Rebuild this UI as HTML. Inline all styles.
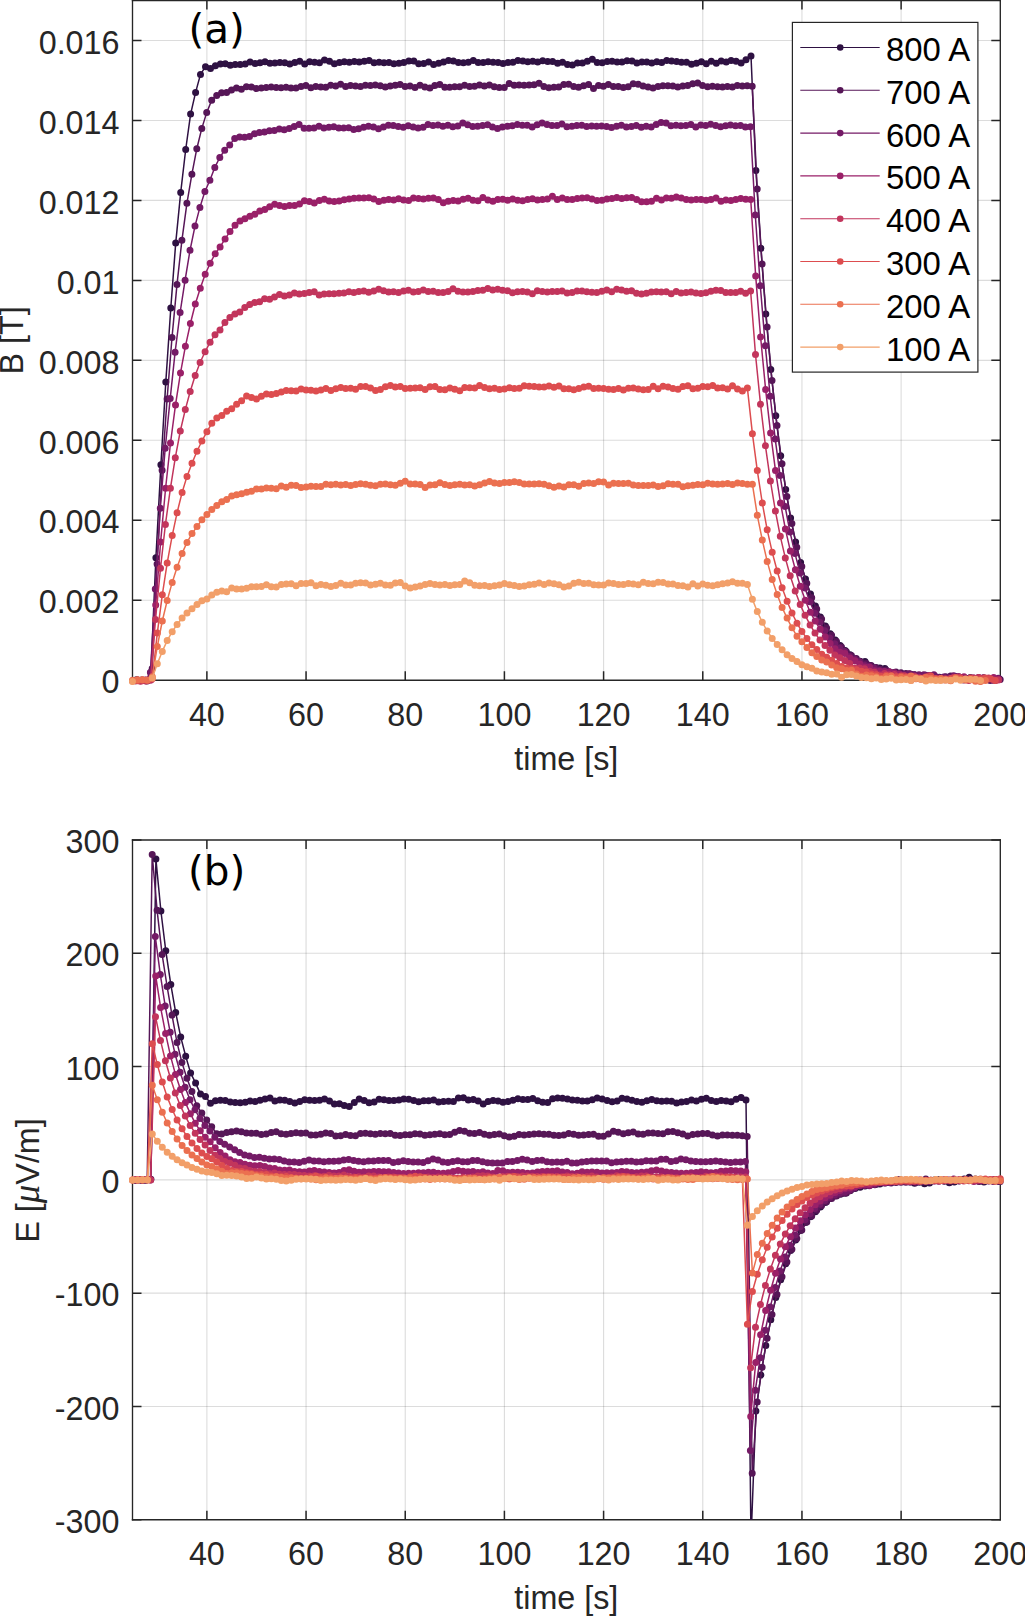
<!DOCTYPE html>
<html><head><meta charset="utf-8"><title>B and E vs time</title>
<style>
html,body{margin:0;padding:0;background:#fff;width:1025px;height:1616px;overflow:hidden}
svg{display:block}
.tk text{font-family:"Liberation Sans",Arial,Helvetica,sans-serif;font-size:32.3px;fill:#262626}
.lg text{font-family:"Liberation Sans",Arial,Helvetica,sans-serif;font-size:32.9px;fill:#000}
.pl{font-family:"DejaVu Sans",Verdana,sans-serif;font-size:40.5px;fill:#000}
.al{font-family:"Liberation Sans",Arial,Helvetica,sans-serif;font-size:32.3px;fill:#262626}
</style></head><body>
<svg width="1025" height="1616" viewBox="0 0 1025 1616">
<rect width="1025" height="1616" fill="#fff"/>
<defs>


</defs>
<clipPath id="ca"><rect x="132.50" y="0.50" width="867.80" height="679.70"/></clipPath>
<path d="M206.88 0.50V680.20M306.06 0.50V680.20M405.24 0.50V680.20M504.41 0.50V680.20M603.59 0.50V680.20M702.77 0.50V680.20M801.95 0.50V680.20M901.12 0.50V680.20" stroke="#262626" stroke-opacity="0.16" stroke-width="1.1" fill="none"/>
<path d="M132.50 600.24H1000.30M132.50 520.27H1000.30M132.50 440.31H1000.30M132.50 360.34H1000.30M132.50 280.38H1000.30M132.50 200.41H1000.30M132.50 120.45H1000.30M132.50 40.48H1000.30" stroke="#262626" stroke-opacity="0.16" stroke-width="1.1" fill="none"/>
<clipPath id="cb"><rect x="132.50" y="839.95" width="867.80" height="679.80"/></clipPath>
<path d="M206.88 839.95V1519.75M306.06 839.95V1519.75M405.24 839.95V1519.75M504.41 839.95V1519.75M603.59 839.95V1519.75M702.77 839.95V1519.75M801.95 839.95V1519.75M901.12 839.95V1519.75" stroke="#262626" stroke-opacity="0.16" stroke-width="1.1" fill="none"/>
<path d="M132.50 1406.45H1000.30M132.50 1293.15H1000.30M132.50 1179.85H1000.30M132.50 1066.55H1000.30M132.50 953.25H1000.30" stroke="#262626" stroke-opacity="0.16" stroke-width="1.1" fill="none"/>
<path d="M206.88 680.20v-9.00M206.88 0.50v9.00M306.06 680.20v-9.00M306.06 0.50v9.00M405.24 680.20v-9.00M405.24 0.50v9.00M504.41 680.20v-9.00M504.41 0.50v9.00M603.59 680.20v-9.00M603.59 0.50v9.00M702.77 680.20v-9.00M702.77 0.50v9.00M801.95 680.20v-9.00M801.95 0.50v9.00M901.12 680.20v-9.00M901.12 0.50v9.00" stroke="#262626" stroke-width="1.5" fill="none"/>
<path d="M132.50 680.20h9.00M1000.30 680.20h-9.00M132.50 600.24h9.00M1000.30 600.24h-9.00M132.50 520.27h9.00M1000.30 520.27h-9.00M132.50 440.31h9.00M1000.30 440.31h-9.00M132.50 360.34h9.00M1000.30 360.34h-9.00M132.50 280.38h9.00M1000.30 280.38h-9.00M132.50 200.41h9.00M1000.30 200.41h-9.00M132.50 120.45h9.00M1000.30 120.45h-9.00M132.50 40.48h9.00M1000.30 40.48h-9.00" stroke="#262626" stroke-width="1.5" fill="none"/>
<path d="M132.50 -0.30V681.00M1000.30 -0.30V681.00" stroke="#262626" stroke-width="1.35" fill="none"/>
<path d="M131.80 0.50H1001.00M131.80 680.20H1001.00" stroke="#262626" stroke-width="1.5" fill="none"/>
<path d="M206.88 1519.75v-9.00M206.88 839.95v9.00M306.06 1519.75v-9.00M306.06 839.95v9.00M405.24 1519.75v-9.00M405.24 839.95v9.00M504.41 1519.75v-9.00M504.41 839.95v9.00M603.59 1519.75v-9.00M603.59 839.95v9.00M702.77 1519.75v-9.00M702.77 839.95v9.00M801.95 1519.75v-9.00M801.95 839.95v9.00M901.12 1519.75v-9.00M901.12 839.95v9.00" stroke="#262626" stroke-width="1.5" fill="none"/>
<path d="M132.50 1519.75h9.00M1000.30 1519.75h-9.00M132.50 1406.45h9.00M1000.30 1406.45h-9.00M132.50 1293.15h9.00M1000.30 1293.15h-9.00M132.50 1179.85h9.00M1000.30 1179.85h-9.00M132.50 1066.55h9.00M1000.30 1066.55h-9.00M132.50 953.25h9.00M1000.30 953.25h-9.00M132.50 839.95h9.00M1000.30 839.95h-9.00" stroke="#262626" stroke-width="1.5" fill="none"/>
<path d="M132.50 839.15V1520.55M1000.30 839.15V1520.55" stroke="#262626" stroke-width="1.35" fill="none"/>
<path d="M131.80 839.95H1001.00M131.80 1519.75H1001.00" stroke="#262626" stroke-width="1.5" fill="none"/>
<g>
<path clip-path="url(#ca)" d="M131.1 680L136.1 680L141 680.2L146 680.7L150.9 672.2L155.9 557.7L160.9 464.8L165.8 381.9L170.8 308L175.7 243.1L180.7 192.4L185.7 149.5L190.6 114.1L195.6 92.4L200.5 74.4L205.5 66.7L210.5 68.4L215.4 65.7L220.4 64.1L225.3 63.8L230.3 65.3L235.2 64.4L240.2 64.6L245.2 64L250.1 62L255.1 63.6L260 62.8L265 61.8L270 63.2L274.9 62.9L279.9 62.5L284.8 62.8L289.8 64L294.8 62.4L299.7 61.2L304.7 63.9L309.6 61.7L314.6 62.2L319.5 62.7L324.5 59.9L329.5 61.3L334.4 63.7L339.4 62.4L344.3 61.7L349.3 62.3L354.3 61.5L359.2 62.1L364.2 61.2L369.1 60.5L374.1 62.7L379.1 62.3L384 62.8L389 62.5L393.9 63.8L398.9 63.3L403.8 62.4L408.8 60.9L413.8 60.9L418.7 63.8L423.7 63.4L428.6 62.1L433.6 64.6L438.6 63.3L443.5 62.1L448.5 60.5L453.4 61.1L458.4 62.5L463.4 62.7L468.3 62.2L473.3 60.4L478.2 62.4L483.2 62.5L488.1 61.8L493.1 62.2L498.1 62.6L503 63.5L508 62.4L512.9 62.3L517.9 60.5L522.9 60.9L527.8 61.7L532.8 61.3L537.7 62L542.7 60.8L547.7 61.6L552.6 61.5L557.6 63.3L562.5 62.2L567.5 64.4L572.4 64.9L577.4 62.9L582.4 63L587.3 61.3L592.3 59.2L597.2 62.5L602.2 62.7L607.2 61.6L612.1 61.2L617.1 61.9L622 61.9L627 60.8L632 61.1L636.9 62.9L641.9 62L646.8 61.9L651.8 62.9L656.8 61.8L661.7 62.4L666.7 60.5L671.6 61.1L676.6 61.5L681.5 62.3L686.5 62.3L691.5 64.3L696.4 63.3L701.4 61.8L706.3 63.8L711.3 61.3L716.3 63.2L721.2 61.1L726.2 62.1L731.1 60.6L736.1 61.3L741.1 62.9L746 59.8L751 55.9L755.9 170.5L760.9 248.3L765.8 313.9L770.8 369.4L775.8 415.7L780.7 455.8L785.7 489.4L790.6 518L795.6 542.1L800.6 562.5L805.5 579L810.5 593.9L815.4 606L820.4 616.9L825.4 626.1L830.3 633.7L835.3 640.1L840.2 645.5L845.2 650.5L850.1 654.7L855.1 659.1L860.1 661.2L865 661.5L870 665.6L874.9 668L879.9 668L884.9 668.6L889.8 672.2L894.8 672.6L899.7 673.9L904.7 675.4L909.7 673.9L914.6 674.7L919.6 675.5L924.5 676.5L929.5 676L934.4 677L939.4 677.3L944.4 678.5L949.3 678.6L954.3 676.6L959.2 678L964.2 677.8L969.2 678.2L974.1 678.8L979.1 678.9L984 678.1L989 678.9L994 679L998.9 678.6" fill="none" stroke="#2e1142" stroke-width="1.5" stroke-linejoin="round"/>
<path d="M136.1 680h0M141 680.2h0M146 680.7h0M150.9 672.2h0M155.9 557.7h0M160.9 464.8h0M165.8 381.9h0M170.8 308h0M175.7 243.1h0M180.7 192.4h0M185.7 149.5h0M190.6 114.1h0M195.6 92.4h0M200.5 74.4h0M205.5 66.7h0M210.5 68.4h0M215.4 65.7h0M220.4 64.1h0M225.3 63.8h0M230.3 65.3h0M235.2 64.4h0M240.2 64.6h0M245.2 64h0M250.1 62h0M255.1 63.6h0M260 62.8h0M265 61.8h0M270 63.2h0M274.9 62.9h0M279.9 62.5h0M284.8 62.8h0M289.8 64h0M294.8 62.4h0M299.7 61.2h0M304.7 63.9h0M309.6 61.7h0M314.6 62.2h0M319.5 62.7h0M324.5 59.9h0M329.5 61.3h0M334.4 63.7h0M339.4 62.4h0M344.3 61.7h0M349.3 62.3h0M354.3 61.5h0M359.2 62.1h0M364.2 61.2h0M369.1 60.5h0M374.1 62.7h0M379.1 62.3h0M384 62.8h0M389 62.5h0M393.9 63.8h0M398.9 63.3h0M403.8 62.4h0M408.8 60.9h0M413.8 60.9h0M418.7 63.8h0M423.7 63.4h0M428.6 62.1h0M433.6 64.6h0M438.6 63.3h0M443.5 62.1h0M448.5 60.5h0M453.4 61.1h0M458.4 62.5h0M463.4 62.7h0M468.3 62.2h0M473.3 60.4h0M478.2 62.4h0M483.2 62.5h0M488.1 61.8h0M493.1 62.2h0M498.1 62.6h0M503 63.5h0M508 62.4h0M512.9 62.3h0M517.9 60.5h0M522.9 60.9h0M527.8 61.7h0M532.8 61.3h0M537.7 62h0M542.7 60.8h0M547.7 61.6h0M552.6 61.5h0M557.6 63.3h0M562.5 62.2h0M567.5 64.4h0M572.4 64.9h0M577.4 62.9h0M582.4 63h0M587.3 61.3h0M592.3 59.2h0M597.2 62.5h0M602.2 62.7h0M607.2 61.6h0M612.1 61.2h0M617.1 61.9h0M622 61.9h0M627 60.8h0M632 61.1h0M636.9 62.9h0M641.9 62h0M646.8 61.9h0M651.8 62.9h0M656.8 61.8h0M661.7 62.4h0M666.7 60.5h0M671.6 61.1h0M676.6 61.5h0M681.5 62.3h0M686.5 62.3h0M691.5 64.3h0M696.4 63.3h0M701.4 61.8h0M706.3 63.8h0M711.3 61.3h0M716.3 63.2h0M721.2 61.1h0M726.2 62.1h0M731.1 60.6h0M736.1 61.3h0M741.1 62.9h0M746 59.8h0M751 55.9h0M755.9 170.5h0M760.9 248.3h0M765.8 313.9h0M770.8 369.4h0M775.8 415.7h0M780.7 455.8h0M785.7 489.4h0M790.6 518h0M795.6 542.1h0M800.6 562.5h0M805.5 579h0M810.5 593.9h0M815.4 606h0M820.4 616.9h0M825.4 626.1h0M830.3 633.7h0M835.3 640.1h0M840.2 645.5h0M845.2 650.5h0M850.1 654.7h0M855.1 659.1h0M860.1 661.2h0M865 661.5h0M870 665.6h0M874.9 668h0M879.9 668h0M884.9 668.6h0M889.8 672.2h0M894.8 672.6h0M899.7 673.9h0M904.7 675.4h0M909.7 673.9h0M914.6 674.7h0M919.6 675.5h0M924.5 676.5h0M929.5 676h0M934.4 677h0M939.4 677.3h0M944.4 678.5h0M949.3 678.6h0M954.3 676.6h0M959.2 678h0M964.2 677.8h0M969.2 678.2h0M974.1 678.8h0M979.1 678.9h0M984 678.1h0M989 678.9h0M994 679h0M998.9 678.6h0" stroke="#2e1142" stroke-width="7.0" stroke-linecap="round" fill="none"/>
<path clip-path="url(#ca)" d="M132.4 680.3L137.3 679.7L142.3 680.1L147.2 680.9L152.2 668.6L157.1 564L162.1 470.2L167.1 398.9L172 337.5L177 284.4L181.9 240.3L186.9 203.3L191.9 174.2L196.8 148.7L201.8 128.4L206.7 112.6L211.7 100.3L216.7 95.6L221.6 92.7L226.6 92.5L231.5 89.9L236.5 87.9L241.4 89.3L246.4 86.8L251.4 87.1L256.3 88.6L261.3 88L266.2 87.5L271.2 87L276.2 87.4L281.1 87.7L286.1 87.2L291 88L296 88.1L301 86.4L305.9 85.5L310.9 87.8L315.8 86.6L320.8 87.1L325.7 87.2L330.7 85.3L335.7 86L340.6 84.3L345.6 86.4L350.5 85.6L355.5 86.1L360.5 86.6L365.4 85.2L370.4 85.6L375.3 84.9L380.3 85.8L385.3 86.9L390.2 85.9L395.2 85.3L400.1 84.5L405.1 86.4L410 86.1L415 87.4L420 85.3L424.9 87L429.9 87.9L434.8 85.6L439.8 84.4L444.8 87.2L449.7 87.2L454.7 86.8L459.6 86.8L464.6 85.3L469.6 86.4L474.5 86.2L479.5 84.9L484.4 86L489.4 85.1L494.3 86.7L499.3 87.4L504.3 87.4L509.2 83.5L514.2 85.2L519.1 85L524.1 85.2L529.1 85.1L534 84.7L539 83.2L543.9 86.5L548.9 87.7L553.9 87.2L558.8 87L563.8 84.5L568.7 84.3L573.7 86.6L578.6 87.3L583.6 85.8L588.6 84.4L593.5 88.4L598.5 85.6L603.4 86.3L608.4 84.6L613.4 86.5L618.3 86.4L623.3 87.6L628.2 86.7L633.2 83.8L638.2 84.2L643.1 86L648.1 87.1L653 88.1L658 86.5L662.9 85.7L667.9 85.7L672.9 86L677.8 87L682.8 86L687.7 85.4L692.7 83.7L697.7 83.1L702.6 85.6L707.6 86.8L712.5 86.2L717.5 86.8L722.5 86.9L727.4 86.4L732.4 87.1L737.3 85.5L742.3 85.9L747.2 85.8L752.2 86.2L757.2 189.1L762.1 264L767.1 327L772 380.4L777 425.4L782 463.8L786.9 496.6L791.9 523.6L796.8 547.2L801.8 566.6L806.8 583.2L811.7 597.8L816.7 609.1L821.6 619.1L826.6 627.9L831.6 635.3L836.5 641.6L841.5 647.1L846.4 651.7L851.4 655.6L856.3 658.6L861.3 662.3L866.3 663.5L871.2 665.4L876.2 667.5L881.1 669.2L886.1 670L891.1 672.8L896 672.1L901 672.8L905.9 673.5L910.9 674.2L915.9 675.7L920.8 675.8L925.8 675.3L930.7 675.8L935.7 676.7L940.6 678.4L945.6 676.8L950.6 676.1L955.5 676.5L960.5 677.8L965.4 679.4L970.4 677.6L975.4 678.8L980.3 681L985.3 679L990.2 680.4L995.2 680.5L1000.2 679.5" fill="none" stroke="#561657" stroke-width="1.5" stroke-linejoin="round"/>
<path d="M137.3 679.7h0M142.3 680.1h0M147.2 680.9h0M152.2 668.6h0M157.1 564h0M162.1 470.2h0M167.1 398.9h0M172 337.5h0M177 284.4h0M181.9 240.3h0M186.9 203.3h0M191.9 174.2h0M196.8 148.7h0M201.8 128.4h0M206.7 112.6h0M211.7 100.3h0M216.7 95.6h0M221.6 92.7h0M226.6 92.5h0M231.5 89.9h0M236.5 87.9h0M241.4 89.3h0M246.4 86.8h0M251.4 87.1h0M256.3 88.6h0M261.3 88h0M266.2 87.5h0M271.2 87h0M276.2 87.4h0M281.1 87.7h0M286.1 87.2h0M291 88h0M296 88.1h0M301 86.4h0M305.9 85.5h0M310.9 87.8h0M315.8 86.6h0M320.8 87.1h0M325.7 87.2h0M330.7 85.3h0M335.7 86h0M340.6 84.3h0M345.6 86.4h0M350.5 85.6h0M355.5 86.1h0M360.5 86.6h0M365.4 85.2h0M370.4 85.6h0M375.3 84.9h0M380.3 85.8h0M385.3 86.9h0M390.2 85.9h0M395.2 85.3h0M400.1 84.5h0M405.1 86.4h0M410 86.1h0M415 87.4h0M420 85.3h0M424.9 87h0M429.9 87.9h0M434.8 85.6h0M439.8 84.4h0M444.8 87.2h0M449.7 87.2h0M454.7 86.8h0M459.6 86.8h0M464.6 85.3h0M469.6 86.4h0M474.5 86.2h0M479.5 84.9h0M484.4 86h0M489.4 85.1h0M494.3 86.7h0M499.3 87.4h0M504.3 87.4h0M509.2 83.5h0M514.2 85.2h0M519.1 85h0M524.1 85.2h0M529.1 85.1h0M534 84.7h0M539 83.2h0M543.9 86.5h0M548.9 87.7h0M553.9 87.2h0M558.8 87h0M563.8 84.5h0M568.7 84.3h0M573.7 86.6h0M578.6 87.3h0M583.6 85.8h0M588.6 84.4h0M593.5 88.4h0M598.5 85.6h0M603.4 86.3h0M608.4 84.6h0M613.4 86.5h0M618.3 86.4h0M623.3 87.6h0M628.2 86.7h0M633.2 83.8h0M638.2 84.2h0M643.1 86h0M648.1 87.1h0M653 88.1h0M658 86.5h0M662.9 85.7h0M667.9 85.7h0M672.9 86h0M677.8 87h0M682.8 86h0M687.7 85.4h0M692.7 83.7h0M697.7 83.1h0M702.6 85.6h0M707.6 86.8h0M712.5 86.2h0M717.5 86.8h0M722.5 86.9h0M727.4 86.4h0M732.4 87.1h0M737.3 85.5h0M742.3 85.9h0M747.2 85.8h0M752.2 86.2h0M757.2 189.1h0M762.1 264h0M767.1 327h0M772 380.4h0M777 425.4h0M782 463.8h0M786.9 496.6h0M791.9 523.6h0M796.8 547.2h0M801.8 566.6h0M806.8 583.2h0M811.7 597.8h0M816.7 609.1h0M821.6 619.1h0M826.6 627.9h0M831.6 635.3h0M836.5 641.6h0M841.5 647.1h0M846.4 651.7h0M851.4 655.6h0M856.3 658.6h0M861.3 662.3h0M866.3 663.5h0M871.2 665.4h0M876.2 667.5h0M881.1 669.2h0M886.1 670h0M891.1 672.8h0M896 672.1h0M901 672.8h0M905.9 673.5h0M910.9 674.2h0M915.9 675.7h0M920.8 675.8h0M925.8 675.3h0M930.7 675.8h0M935.7 676.7h0M940.6 678.4h0M945.6 676.8h0M950.6 676.1h0M955.5 676.5h0M960.5 677.8h0M965.4 679.4h0M970.4 677.6h0M975.4 678.8h0M980.3 681h0M985.3 679h0M990.2 680.4h0M995.2 680.5h0M1000.2 679.5h0" stroke="#561657" stroke-width="7.0" stroke-linecap="round" fill="none"/>
<path clip-path="url(#ca)" d="M130.5 680.8L135.5 680.8L140.4 680.8L145.4 680.2L150.4 672.6L155.3 589L160.3 508.2L165.2 448.3L170.2 398.6L175.1 352.2L180.1 312.5L185.1 280.2L190 250.3L195 226.1L199.9 207.4L204.9 191.5L209.9 180.2L214.8 167.4L219.8 157.5L224.7 150.2L229.7 144.9L234.7 138.4L239.6 137.1L244.6 137.3L249.5 136.6L254.5 133.8L259.4 132.4L264.4 132.1L269.4 130.7L274.3 130.6L279.3 129.1L284.2 129.8L289.2 128.6L294.2 126.4L299.1 124.6L304.1 128.2L309 128.2L314 127.9L319 126.2L323.9 127.9L328.9 127.3L333.8 126.8L338.8 127.9L343.7 127.9L348.7 127.7L353.7 129.4L358.6 128.8L363.6 127.2L368.5 126.3L373.5 127L378.5 128.7L383.4 127.1L388.4 125.3L393.3 125.5L398.3 126.5L403.3 127.3L408.2 125.8L413.2 127.1L418.1 128L423.1 127.2L428 124.6L433 125.4L438 124.9L442.9 126.3L447.9 125.3L452.8 126.8L457.8 125.9L462.8 123L467.7 124.8L472.7 126.6L477.6 126.3L482.6 125.5L487.6 124.7L492.5 126.9L497.5 128.5L502.4 126.9L507.4 126.2L512.3 125.7L517.3 124.4L522.3 125.2L527.2 125.3L532.2 127.1L537.1 124.8L542.1 123.1L547.1 124.6L552 125.6L557 125.4L561.9 124.1L566.9 126.8L571.9 126.3L576.8 125.4L581.8 125.2L586.7 126.4L591.7 125.9L596.6 126.3L601.6 126L606.6 126.5L611.5 127.5L616.5 126.2L621.4 125.2L626.4 127.1L631.4 126.4L636.3 125.6L641.3 127.2L646.2 126.3L651.2 127.1L656.2 124.4L661.1 122.5L666.1 123.1L671 125.7L676 125.2L680.9 125.7L685.9 125.5L690.9 124.4L695.8 127.1L700.8 125.1L705.7 125.5L710.7 124.3L715.7 125.6L720.6 126.8L725.6 125.7L730.5 125.1L735.5 125.7L740.5 125.6L745.4 127.1L750.4 126.8L755.3 215L760.3 285.7L765.3 345.7L770.2 396.3L775.2 438.9L780.1 475.6L785.1 506.4L790 532L795 553.6L800 572.9L804.9 588L809.9 601.8L814.8 613.3L819.8 622.2L824.8 630.7L829.7 638.1L834.7 643.7L839.6 648.1L844.6 651.5L849.6 656.6L854.5 659.1L859.5 661.5L864.4 664.9L869.4 666.2L874.3 668.2L879.3 670.2L884.3 671.3L889.2 671.8L894.2 672.8L899.1 674.2L904.1 674.6L909.1 673.8L914 674.8L919 674.7L923.9 674.8L928.9 675.4L933.9 674.7L938.8 677.4L943.8 676.9L948.7 677.5L953.7 675.8L958.6 676.4L963.6 680L968.6 679.5L973.5 677.9L978.5 677.6L983.4 677.8L988.4 678.6L993.4 678.3L998.3 678.3" fill="none" stroke="#741a66" stroke-width="1.5" stroke-linejoin="round"/>
<path d="M135.5 680.8h0M140.4 680.8h0M145.4 680.2h0M150.4 672.6h0M155.3 589h0M160.3 508.2h0M165.2 448.3h0M170.2 398.6h0M175.1 352.2h0M180.1 312.5h0M185.1 280.2h0M190 250.3h0M195 226.1h0M199.9 207.4h0M204.9 191.5h0M209.9 180.2h0M214.8 167.4h0M219.8 157.5h0M224.7 150.2h0M229.7 144.9h0M234.7 138.4h0M239.6 137.1h0M244.6 137.3h0M249.5 136.6h0M254.5 133.8h0M259.4 132.4h0M264.4 132.1h0M269.4 130.7h0M274.3 130.6h0M279.3 129.1h0M284.2 129.8h0M289.2 128.6h0M294.2 126.4h0M299.1 124.6h0M304.1 128.2h0M309 128.2h0M314 127.9h0M319 126.2h0M323.9 127.9h0M328.9 127.3h0M333.8 126.8h0M338.8 127.9h0M343.7 127.9h0M348.7 127.7h0M353.7 129.4h0M358.6 128.8h0M363.6 127.2h0M368.5 126.3h0M373.5 127h0M378.5 128.7h0M383.4 127.1h0M388.4 125.3h0M393.3 125.5h0M398.3 126.5h0M403.3 127.3h0M408.2 125.8h0M413.2 127.1h0M418.1 128h0M423.1 127.2h0M428 124.6h0M433 125.4h0M438 124.9h0M442.9 126.3h0M447.9 125.3h0M452.8 126.8h0M457.8 125.9h0M462.8 123h0M467.7 124.8h0M472.7 126.6h0M477.6 126.3h0M482.6 125.5h0M487.6 124.7h0M492.5 126.9h0M497.5 128.5h0M502.4 126.9h0M507.4 126.2h0M512.3 125.7h0M517.3 124.4h0M522.3 125.2h0M527.2 125.3h0M532.2 127.1h0M537.1 124.8h0M542.1 123.1h0M547.1 124.6h0M552 125.6h0M557 125.4h0M561.9 124.1h0M566.9 126.8h0M571.9 126.3h0M576.8 125.4h0M581.8 125.2h0M586.7 126.4h0M591.7 125.9h0M596.6 126.3h0M601.6 126h0M606.6 126.5h0M611.5 127.5h0M616.5 126.2h0M621.4 125.2h0M626.4 127.1h0M631.4 126.4h0M636.3 125.6h0M641.3 127.2h0M646.2 126.3h0M651.2 127.1h0M656.2 124.4h0M661.1 122.5h0M666.1 123.1h0M671 125.7h0M676 125.2h0M680.9 125.7h0M685.9 125.5h0M690.9 124.4h0M695.8 127.1h0M700.8 125.1h0M705.7 125.5h0M710.7 124.3h0M715.7 125.6h0M720.6 126.8h0M725.6 125.7h0M730.5 125.1h0M735.5 125.7h0M740.5 125.6h0M745.4 127.1h0M750.4 126.8h0M755.3 215h0M760.3 285.7h0M765.3 345.7h0M770.2 396.3h0M775.2 438.9h0M780.1 475.6h0M785.1 506.4h0M790 532h0M795 553.6h0M800 572.9h0M804.9 588h0M809.9 601.8h0M814.8 613.3h0M819.8 622.2h0M824.8 630.7h0M829.7 638.1h0M834.7 643.7h0M839.6 648.1h0M844.6 651.5h0M849.6 656.6h0M854.5 659.1h0M859.5 661.5h0M864.4 664.9h0M869.4 666.2h0M874.3 668.2h0M879.3 670.2h0M884.3 671.3h0M889.2 671.8h0M894.2 672.8h0M899.1 674.2h0M904.1 674.6h0M909.1 673.8h0M914 674.8h0M919 674.7h0M923.9 674.8h0M928.9 675.4h0M933.9 674.7h0M938.8 677.4h0M943.8 676.9h0M948.7 677.5h0M953.7 675.8h0M958.6 676.4h0M963.6 680h0M968.6 679.5h0M973.5 677.9h0M978.5 677.6h0M983.4 677.8h0M988.4 678.6h0M993.4 678.3h0M998.3 678.3h0" stroke="#741a66" stroke-width="7.0" stroke-linecap="round" fill="none"/>
<path clip-path="url(#ca)" d="M130.9 680.5L135.8 680.7L140.8 680.5L145.7 680.1L150.7 679.9L155.7 604.9L160.6 542.1L165.6 488.3L170.5 443L175.5 404.9L180.5 372.9L185.4 346.3L190.4 323.5L195.3 304L200.3 288.3L205.2 274.2L210.2 263.2L215.2 253.7L220.1 246.9L225.1 238.9L230 231.6L235 225.2L240 220.9L244.9 218.7L249.9 216.3L254.8 214.3L259.8 210.9L264.8 209.4L269.7 206.7L274.7 204.3L279.6 205.5L284.6 206.6L289.5 205.6L294.5 205.4L299.5 204.1L304.4 200.7L309.4 201.5L314.3 203.1L319.3 200.4L324.3 199.3L329.2 201L334.2 201.5L339.1 200.9L344.1 199.8L349.1 199L354 198.2L359 197.9L363.9 197.9L368.9 197.8L373.8 199.1L378.8 201.6L383.8 200.2L388.7 199.5L393.7 199.9L398.6 198.8L403.6 200.1L408.6 200.6L413.5 198L418.5 198.4L423.4 199L428.4 198.2L433.4 198L438.3 199.5L443.3 202.7L448.2 201.2L453.2 200.6L458.1 200.9L463.1 199.3L468.1 198.2L473 200.2L478 200.7L482.9 197.5L487.9 200L492.9 201.2L497.8 199.5L502.8 199.2L507.7 200.2L512.7 198.9L517.7 200.2L522.6 200.8L527.6 199.4L532.5 198.8L537.5 200.1L542.4 199.4L547.4 199L552.4 196.3L557.3 199.5L562.3 198.1L567.2 199.4L572.2 199.6L577.2 198.5L582.1 198L587.1 197.8L592 199L597 200.4L602 200.3L606.9 199L611.9 198.4L616.8 197.6L621.8 198.5L626.7 197.8L631.7 197.5L636.7 199.4L641.6 201.7L646.6 201.8L651.5 201.3L656.5 198.2L661.5 200L666.4 198.1L671.4 198.2L676.3 197.1L681.3 198L686.3 199.5L691.2 199.9L696.2 199.5L701.1 199.5L706.1 200.2L711 199.4L716 198L721 201.3L725.9 199.9L730.9 200.6L735.8 199.4L740.8 198.5L745.8 199.3L750.7 199.4L755.7 276.1L760.6 337L765.6 389.4L770.6 433.1L775.5 470.6L780.5 503L785.4 529.1L790.4 551.1L795.4 569.7L800.3 586.3L805.3 600.2L810.2 612.2L815.2 621.1L820.1 629.3L825.1 637L830.1 643.4L835 648.8L840 652.2L844.9 653.4L849.9 658.1L854.9 660.7L859.8 664L864.8 667.1L869.7 667.3L874.7 670.7L879.7 671.3L884.6 671.6L889.6 671.9L894.5 673.1L899.5 674.1L904.4 675.9L909.4 677L914.4 676.3L919.3 677.3L924.3 678.4L929.2 678.7L934.2 678.4L939.2 679.8L944.1 679.8L949.1 679.8L954 678.2L959 677.5L964 676.7L968.9 679.8L973.9 679.5L978.8 678.1L983.8 679L988.7 679L993.7 677.5L998.7 679.4" fill="none" stroke="#9a2068" stroke-width="1.5" stroke-linejoin="round"/>
<path d="M135.8 680.7h0M140.8 680.5h0M145.7 680.1h0M150.7 679.9h0M155.7 604.9h0M160.6 542.1h0M165.6 488.3h0M170.5 443h0M175.5 404.9h0M180.5 372.9h0M185.4 346.3h0M190.4 323.5h0M195.3 304h0M200.3 288.3h0M205.2 274.2h0M210.2 263.2h0M215.2 253.7h0M220.1 246.9h0M225.1 238.9h0M230 231.6h0M235 225.2h0M240 220.9h0M244.9 218.7h0M249.9 216.3h0M254.8 214.3h0M259.8 210.9h0M264.8 209.4h0M269.7 206.7h0M274.7 204.3h0M279.6 205.5h0M284.6 206.6h0M289.5 205.6h0M294.5 205.4h0M299.5 204.1h0M304.4 200.7h0M309.4 201.5h0M314.3 203.1h0M319.3 200.4h0M324.3 199.3h0M329.2 201h0M334.2 201.5h0M339.1 200.9h0M344.1 199.8h0M349.1 199h0M354 198.2h0M359 197.9h0M363.9 197.9h0M368.9 197.8h0M373.8 199.1h0M378.8 201.6h0M383.8 200.2h0M388.7 199.5h0M393.7 199.9h0M398.6 198.8h0M403.6 200.1h0M408.6 200.6h0M413.5 198h0M418.5 198.4h0M423.4 199h0M428.4 198.2h0M433.4 198h0M438.3 199.5h0M443.3 202.7h0M448.2 201.2h0M453.2 200.6h0M458.1 200.9h0M463.1 199.3h0M468.1 198.2h0M473 200.2h0M478 200.7h0M482.9 197.5h0M487.9 200h0M492.9 201.2h0M497.8 199.5h0M502.8 199.2h0M507.7 200.2h0M512.7 198.9h0M517.7 200.2h0M522.6 200.8h0M527.6 199.4h0M532.5 198.8h0M537.5 200.1h0M542.4 199.4h0M547.4 199h0M552.4 196.3h0M557.3 199.5h0M562.3 198.1h0M567.2 199.4h0M572.2 199.6h0M577.2 198.5h0M582.1 198h0M587.1 197.8h0M592 199h0M597 200.4h0M602 200.3h0M606.9 199h0M611.9 198.4h0M616.8 197.6h0M621.8 198.5h0M626.7 197.8h0M631.7 197.5h0M636.7 199.4h0M641.6 201.7h0M646.6 201.8h0M651.5 201.3h0M656.5 198.2h0M661.5 200h0M666.4 198.1h0M671.4 198.2h0M676.3 197.1h0M681.3 198h0M686.3 199.5h0M691.2 199.9h0M696.2 199.5h0M701.1 199.5h0M706.1 200.2h0M711 199.4h0M716 198h0M721 201.3h0M725.9 199.9h0M730.9 200.6h0M735.8 199.4h0M740.8 198.5h0M745.8 199.3h0M750.7 199.4h0M755.7 276.1h0M760.6 337h0M765.6 389.4h0M770.6 433.1h0M775.5 470.6h0M780.5 503h0M785.4 529.1h0M790.4 551.1h0M795.4 569.7h0M800.3 586.3h0M805.3 600.2h0M810.2 612.2h0M815.2 621.1h0M820.1 629.3h0M825.1 637h0M830.1 643.4h0M835 648.8h0M840 652.2h0M844.9 653.4h0M849.9 658.1h0M854.9 660.7h0M859.8 664h0M864.8 667.1h0M869.7 667.3h0M874.7 670.7h0M879.7 671.3h0M884.6 671.6h0M889.6 671.9h0M894.5 673.1h0M899.5 674.1h0M904.4 675.9h0M909.4 677h0M914.4 676.3h0M919.3 677.3h0M924.3 678.4h0M929.2 678.7h0M934.2 678.4h0M939.2 679.8h0M944.1 679.8h0M949.1 679.8h0M954 678.2h0M959 677.5h0M964 676.7h0M968.9 679.8h0M973.9 679.5h0M978.8 678.1h0M983.8 679h0M988.7 679h0M993.7 677.5h0M998.7 679.4h0" stroke="#9a2068" stroke-width="7.0" stroke-linecap="round" fill="none"/>
<path clip-path="url(#ca)" d="M130.7 680.6L135.7 680.4L140.6 681.2L145.6 680.9L150.6 680L155.5 619.6L160.5 568.2L165.4 524.6L170.4 488.3L175.3 457.7L180.3 431L185.3 409.6L190.2 391.5L195.2 375.5L200.1 362.5L205.1 351.8L210.1 342.2L215 334.8L220 330L224.9 322.5L229.9 317.5L234.9 314L239.8 311.9L244.8 307.6L249.7 304.4L254.7 302.4L259.6 301.8L264.6 298.8L269.6 299.3L274.5 297.1L279.5 294.5L284.4 295.9L289.4 295.1L294.4 292.9L299.3 293.9L304.3 293.6L309.2 292.4L314.2 291.8L319.2 295.1L324.1 294L329.1 293.8L334 293.7L339 293.3L343.9 292.9L348.9 291.7L353.9 292.6L358.8 291.5L363.8 291.1L368.7 292.2L373.7 291L378.7 289.2L383.6 290.7L388.6 292L393.5 291.7L398.5 292.4L403.5 290.9L408.4 290.3L413.4 292.1L418.3 291.4L423.3 290L428.2 291.5L433.2 291.3L438.2 292.6L443.1 292.6L448.1 291.5L453 288.7L458 291.3L463 292.1L467.9 292L472.9 291.4L477.8 290.4L482.8 290.3L487.8 288.5L492.7 290.1L497.7 289.3L502.6 290.3L507.6 290.7L512.5 292.8L517.5 291.7L522.5 291.4L527.4 292L532.4 293.7L537.3 290.7L542.3 291.5L547.3 291.9L552.2 291.6L557.2 291.4L562.1 291L567.1 292.9L572.1 292.6L577 291L582 291L586.9 291.7L591.9 292.2L596.8 292.4L601.8 291.2L606.8 290L611.7 291.8L616.7 289.3L621.6 289.9L626.6 291.3L631.6 290.7L636.5 293.2L641.5 294L646.4 293.3L651.4 292.1L656.4 291.8L661.3 291.9L666.3 291.7L671.2 293.7L676.2 291.4L681.1 293L686.1 292.4L691.1 292.1L696 293L701 293.4L705.9 292.7L710.9 291.3L715.9 290.3L720.8 290.6L725.8 292.5L730.7 292.6L735.7 292.4L740.7 291.3L745.6 293.3L750.6 290.9L755.5 354.5L760.5 404.2L765.4 445.7L770.4 480.9L775.4 511L780.3 536.3L785.3 557.9L790.2 575.8L795.2 591.1L800.2 604.6L805.1 615.2L810.1 624.9L815 633.1L820 640.1L825 645.6L829.9 650.2L834.9 654.9L839.8 657.8L844.8 660.5L849.7 663.6L854.7 667.9L859.7 668L864.6 668.7L869.6 671.2L874.5 672.2L879.5 674.9L884.5 673.5L889.4 674.7L894.4 674.6L899.3 677.1L904.3 675.7L909.3 676.4L914.2 676.2L919.2 678L924.1 677.8L929.1 675.7L934 678.4L939 679L944 678.9L948.9 679.3L953.9 677.3L958.8 676.9L963.8 679.5L968.8 680.5L973.7 678L978.7 677.6L983.6 677.9L988.6 678.1L993.6 680L998.5 679.9" fill="none" stroke="#c2355c" stroke-width="1.5" stroke-linejoin="round"/>
<path d="M135.7 680.4h0M140.6 681.2h0M145.6 680.9h0M150.6 680h0M155.5 619.6h0M160.5 568.2h0M165.4 524.6h0M170.4 488.3h0M175.3 457.7h0M180.3 431h0M185.3 409.6h0M190.2 391.5h0M195.2 375.5h0M200.1 362.5h0M205.1 351.8h0M210.1 342.2h0M215 334.8h0M220 330h0M224.9 322.5h0M229.9 317.5h0M234.9 314h0M239.8 311.9h0M244.8 307.6h0M249.7 304.4h0M254.7 302.4h0M259.6 301.8h0M264.6 298.8h0M269.6 299.3h0M274.5 297.1h0M279.5 294.5h0M284.4 295.9h0M289.4 295.1h0M294.4 292.9h0M299.3 293.9h0M304.3 293.6h0M309.2 292.4h0M314.2 291.8h0M319.2 295.1h0M324.1 294h0M329.1 293.8h0M334 293.7h0M339 293.3h0M343.9 292.9h0M348.9 291.7h0M353.9 292.6h0M358.8 291.5h0M363.8 291.1h0M368.7 292.2h0M373.7 291h0M378.7 289.2h0M383.6 290.7h0M388.6 292h0M393.5 291.7h0M398.5 292.4h0M403.5 290.9h0M408.4 290.3h0M413.4 292.1h0M418.3 291.4h0M423.3 290h0M428.2 291.5h0M433.2 291.3h0M438.2 292.6h0M443.1 292.6h0M448.1 291.5h0M453 288.7h0M458 291.3h0M463 292.1h0M467.9 292h0M472.9 291.4h0M477.8 290.4h0M482.8 290.3h0M487.8 288.5h0M492.7 290.1h0M497.7 289.3h0M502.6 290.3h0M507.6 290.7h0M512.5 292.8h0M517.5 291.7h0M522.5 291.4h0M527.4 292h0M532.4 293.7h0M537.3 290.7h0M542.3 291.5h0M547.3 291.9h0M552.2 291.6h0M557.2 291.4h0M562.1 291h0M567.1 292.9h0M572.1 292.6h0M577 291h0M582 291h0M586.9 291.7h0M591.9 292.2h0M596.8 292.4h0M601.8 291.2h0M606.8 290h0M611.7 291.8h0M616.7 289.3h0M621.6 289.9h0M626.6 291.3h0M631.6 290.7h0M636.5 293.2h0M641.5 294h0M646.4 293.3h0M651.4 292.1h0M656.4 291.8h0M661.3 291.9h0M666.3 291.7h0M671.2 293.7h0M676.2 291.4h0M681.1 293h0M686.1 292.4h0M691.1 292.1h0M696 293h0M701 293.4h0M705.9 292.7h0M710.9 291.3h0M715.9 290.3h0M720.8 290.6h0M725.8 292.5h0M730.7 292.6h0M735.7 292.4h0M740.7 291.3h0M745.6 293.3h0M750.6 290.9h0M755.5 354.5h0M760.5 404.2h0M765.4 445.7h0M770.4 480.9h0M775.4 511h0M780.3 536.3h0M785.3 557.9h0M790.2 575.8h0M795.2 591.1h0M800.2 604.6h0M805.1 615.2h0M810.1 624.9h0M815 633.1h0M820 640.1h0M825 645.6h0M829.9 650.2h0M834.9 654.9h0M839.8 657.8h0M844.8 660.5h0M849.7 663.6h0M854.7 667.9h0M859.7 668h0M864.6 668.7h0M869.6 671.2h0M874.5 672.2h0M879.5 674.9h0M884.5 673.5h0M889.4 674.7h0M894.4 674.6h0M899.3 677.1h0M904.3 675.7h0M909.3 676.4h0M914.2 676.2h0M919.2 678h0M924.1 677.8h0M929.1 675.7h0M934 678.4h0M939 679h0M944 678.9h0M948.9 679.3h0M953.9 677.3h0M958.8 676.9h0M963.8 679.5h0M968.8 680.5h0M973.7 678h0M978.7 677.6h0M983.6 677.9h0M988.6 678.1h0M993.6 680h0M998.5 679.9h0" stroke="#c2355c" stroke-width="7.0" stroke-linecap="round" fill="none"/>
<path clip-path="url(#ca)" d="M132.5 680.9L137.5 680.8L142.4 679.9L147.4 680.4L152.3 678.7L157.3 633.1L162.3 594.8L167.2 562.9L172.2 535.6L177.1 512.7L182.1 492.5L187 476.4L192 463.2L197 451.2L201.9 441L206.9 431.8L211.8 423.3L216.8 418L221.8 415.4L226.7 411.3L231.7 408.8L236.6 404.2L241.6 400.8L246.6 396.1L251.5 397.5L256.5 398.9L261.4 396.2L266.4 394.1L271.3 394.6L276.3 393.6L281.3 392.1L286.2 390.6L291.2 390.8L296.1 391L301.1 389.1L306.1 390.1L311 390.3L316 391L320.9 390L325.9 388.5L330.9 390.4L335.8 388.8L340.8 387.6L345.7 388.6L350.7 388.3L355.6 389.2L360.6 386.5L365.6 386.4L370.5 388L375.5 390.4L380.4 389.5L385.4 386.7L390.4 385.6L395.3 386.9L400.3 386.5L405.2 388.5L410.2 388.3L415.2 387.9L420.1 387.8L425.1 389.5L430 386.8L435 386.4L439.9 389.4L444.9 389.8L449.9 388L454.8 389.2L459.8 390.8L464.7 387.5L469.7 387.7L474.7 388L479.6 385.4L484.6 387.4L489.5 388.8L494.5 388.2L499.5 389.4L504.4 389L509.4 387.8L514.3 388.6L519.3 388.2L524.2 385.8L529.2 386.3L534.2 386.6L539.1 387L544.1 386.9L549 386L554 387.2L559 385.9L563.9 388.7L568.9 388.8L573.8 389.8L578.8 388.6L583.8 387L588.7 386.2L593.7 388.4L598.6 388.2L603.6 388.5L608.6 389.2L613.5 389.6L618.5 388.5L623.4 390L628.4 388.2L633.3 388L638.3 389L643.3 389.7L648.2 389.4L653.2 386.3L658.1 388.8L663.1 386.2L668.1 386.9L673 388.5L678 389.2L682.9 386.5L687.9 385.8L692.9 388.7L697.8 388.3L702.8 386.6L707.7 386.8L712.7 385.5L717.6 388L722.6 387.7L727.6 388.9L732.5 385.8L737.5 388.9L742.4 390.9L747.4 388.1L752.4 433.7L757.3 470.6L762.3 503L767.2 529.8L772.2 552.2L777.2 571L782.1 587.7L787.1 601.2L792 613L797 623.2L801.9 631.5L806.9 638.6L811.9 644.8L816.8 649.4L821.8 654.3L826.7 657.2L831.7 660.3L836.7 663.4L841.6 666.5L846.6 667.9L851.5 668.7L856.5 669.8L861.5 671.3L866.4 672L871.4 674.1L876.3 674.7L881.3 676.6L886.2 675.3L891.2 676L896.2 676.8L901.1 675.9L906.1 677L911 680.3L916 678.7L921 679.3L925.9 677L930.9 675.9L935.8 678.6L940.8 678.8L945.8 679L950.7 678.5L955.7 678.1L960.6 677.9L965.6 679.7L970.5 678.1L975.5 679.9L980.5 679.1L985.4 678.1L990.4 678.8L995.3 680.5" fill="none" stroke="#dd4d4f" stroke-width="1.5" stroke-linejoin="round"/>
<path d="M132.5 680.9h0M137.5 680.8h0M142.4 679.9h0M147.4 680.4h0M152.3 678.7h0M157.3 633.1h0M162.3 594.8h0M167.2 562.9h0M172.2 535.6h0M177.1 512.7h0M182.1 492.5h0M187 476.4h0M192 463.2h0M197 451.2h0M201.9 441h0M206.9 431.8h0M211.8 423.3h0M216.8 418h0M221.8 415.4h0M226.7 411.3h0M231.7 408.8h0M236.6 404.2h0M241.6 400.8h0M246.6 396.1h0M251.5 397.5h0M256.5 398.9h0M261.4 396.2h0M266.4 394.1h0M271.3 394.6h0M276.3 393.6h0M281.3 392.1h0M286.2 390.6h0M291.2 390.8h0M296.1 391h0M301.1 389.1h0M306.1 390.1h0M311 390.3h0M316 391h0M320.9 390h0M325.9 388.5h0M330.9 390.4h0M335.8 388.8h0M340.8 387.6h0M345.7 388.6h0M350.7 388.3h0M355.6 389.2h0M360.6 386.5h0M365.6 386.4h0M370.5 388h0M375.5 390.4h0M380.4 389.5h0M385.4 386.7h0M390.4 385.6h0M395.3 386.9h0M400.3 386.5h0M405.2 388.5h0M410.2 388.3h0M415.2 387.9h0M420.1 387.8h0M425.1 389.5h0M430 386.8h0M435 386.4h0M439.9 389.4h0M444.9 389.8h0M449.9 388h0M454.8 389.2h0M459.8 390.8h0M464.7 387.5h0M469.7 387.7h0M474.7 388h0M479.6 385.4h0M484.6 387.4h0M489.5 388.8h0M494.5 388.2h0M499.5 389.4h0M504.4 389h0M509.4 387.8h0M514.3 388.6h0M519.3 388.2h0M524.2 385.8h0M529.2 386.3h0M534.2 386.6h0M539.1 387h0M544.1 386.9h0M549 386h0M554 387.2h0M559 385.9h0M563.9 388.7h0M568.9 388.8h0M573.8 389.8h0M578.8 388.6h0M583.8 387h0M588.7 386.2h0M593.7 388.4h0M598.6 388.2h0M603.6 388.5h0M608.6 389.2h0M613.5 389.6h0M618.5 388.5h0M623.4 390h0M628.4 388.2h0M633.3 388h0M638.3 389h0M643.3 389.7h0M648.2 389.4h0M653.2 386.3h0M658.1 388.8h0M663.1 386.2h0M668.1 386.9h0M673 388.5h0M678 389.2h0M682.9 386.5h0M687.9 385.8h0M692.9 388.7h0M697.8 388.3h0M702.8 386.6h0M707.7 386.8h0M712.7 385.5h0M717.6 388h0M722.6 387.7h0M727.6 388.9h0M732.5 385.8h0M737.5 388.9h0M742.4 390.9h0M747.4 388.1h0M752.4 433.7h0M757.3 470.6h0M762.3 503h0M767.2 529.8h0M772.2 552.2h0M777.2 571h0M782.1 587.7h0M787.1 601.2h0M792 613h0M797 623.2h0M801.9 631.5h0M806.9 638.6h0M811.9 644.8h0M816.8 649.4h0M821.8 654.3h0M826.7 657.2h0M831.7 660.3h0M836.7 663.4h0M841.6 666.5h0M846.6 667.9h0M851.5 668.7h0M856.5 669.8h0M861.5 671.3h0M866.4 672h0M871.4 674.1h0M876.3 674.7h0M881.3 676.6h0M886.2 675.3h0M891.2 676h0M896.2 676.8h0M901.1 675.9h0M906.1 677h0M911 680.3h0M916 678.7h0M921 679.3h0M925.9 677h0M930.9 675.9h0M935.8 678.6h0M940.8 678.8h0M945.8 679h0M950.7 678.5h0M955.7 678.1h0M960.6 677.9h0M965.6 679.7h0M970.5 678.1h0M975.5 679.9h0M980.5 679.1h0M985.4 678.1h0M990.4 678.8h0M995.3 680.5h0" stroke="#dd4d4f" stroke-width="7.0" stroke-linecap="round" fill="none"/>
<path clip-path="url(#ca)" d="M132.5 680.3L137.5 679.7L142.4 679.8L147.4 679.9L152.3 676.7L157.3 646.5L162.3 621L167.2 600.5L172.2 582.4L177.1 567.3L182.1 553.4L187 542.4L192 533.6L197 526.6L201.9 519.7L206.9 514.4L211.8 509.5L216.8 505.6L221.8 501.7L226.7 499.6L231.7 496.1L236.6 494.7L241.6 493.7L246.6 492.3L251.5 491.2L256.5 488.9L261.4 489L266.4 488L271.3 488.3L276.3 488.8L281.3 486.1L286.2 487.2L291.2 485.3L296.1 485.4L301.1 487.6L306.1 487L311 486.2L316 486.4L320.9 486.4L325.9 484.2L330.9 484.7L335.8 484.3L340.8 485L345.7 484.4L350.7 485.4L355.6 484.5L360.6 483.7L365.6 484.3L370.5 485.2L375.5 485.8L380.4 484.3L385.4 484L390.4 484.8L395.3 485.2L400.3 483.3L405.2 481.2L410.2 484L415.2 483.9L420.1 484.4L425.1 487.4L430 484.9L435 484.8L439.9 482.8L444.9 484.5L449.9 485.4L454.8 484.7L459.8 484.3L464.7 485L469.7 484.8L474.7 486L479.6 484.7L484.6 482.9L489.5 481.5L494.5 482.9L499.5 483.5L504.4 482.5L509.4 482.4L514.3 481.7L519.3 482.6L524.2 484.1L529.2 484L534.2 483.9L539.1 483.8L544.1 484.2L549 485.7L554 487.2L559 486.1L563.9 486.9L568.9 484.7L573.8 484.7L578.8 486.2L583.8 483.6L588.7 483L593.7 483.6L598.6 481.8L603.6 481.9L608.6 485.1L613.5 483.2L618.5 483.4L623.4 483.4L628.4 483.2L633.3 485.1L638.3 485.4L643.3 485.6L648.2 485.4L653.2 484.9L658.1 486.4L663.1 485.8L668.1 483.8L673 484.2L678 484.3L682.9 486.7L687.9 485.8L692.9 485.2L697.8 484.5L702.8 484.8L707.7 483.3L712.7 484.1L717.6 484.3L722.6 484.1L727.6 483.5L732.5 484.4L737.5 482.9L742.4 483.4L747.4 484.2L752.4 484.2L757.3 515.3L762.3 540.1L767.2 561.4L772.2 579.4L777.2 594.5L782.1 607.5L787.1 618.1L792 627.8L797 636.2L801.9 641.7L806.9 647.6L811.9 652.8L816.8 656.6L821.8 660L826.7 661.9L831.7 664.9L836.7 667.7L841.6 668.8L846.6 670.4L851.5 670.2L856.5 674L861.5 676.2L866.4 675.1L871.4 675.7L876.3 676.8L881.3 678.5L886.2 676.5L891.2 675.9L896.2 678.9L901.1 677.2L906.1 678L911 676L916 677.7L921 678.5L925.9 677.6L930.9 678.3L935.8 679.4L940.8 678.6L945.8 679.9L950.7 680.8L955.7 677.8L960.6 679.5L965.6 680.1L970.5 679.6L975.5 681.3L980.5 681.4L985.4 680.5" fill="none" stroke="#eb7050" stroke-width="1.5" stroke-linejoin="round"/>
<path d="M132.5 680.3h0M137.5 679.7h0M142.4 679.8h0M147.4 679.9h0M152.3 676.7h0M157.3 646.5h0M162.3 621h0M167.2 600.5h0M172.2 582.4h0M177.1 567.3h0M182.1 553.4h0M187 542.4h0M192 533.6h0M197 526.6h0M201.9 519.7h0M206.9 514.4h0M211.8 509.5h0M216.8 505.6h0M221.8 501.7h0M226.7 499.6h0M231.7 496.1h0M236.6 494.7h0M241.6 493.7h0M246.6 492.3h0M251.5 491.2h0M256.5 488.9h0M261.4 489h0M266.4 488h0M271.3 488.3h0M276.3 488.8h0M281.3 486.1h0M286.2 487.2h0M291.2 485.3h0M296.1 485.4h0M301.1 487.6h0M306.1 487h0M311 486.2h0M316 486.4h0M320.9 486.4h0M325.9 484.2h0M330.9 484.7h0M335.8 484.3h0M340.8 485h0M345.7 484.4h0M350.7 485.4h0M355.6 484.5h0M360.6 483.7h0M365.6 484.3h0M370.5 485.2h0M375.5 485.8h0M380.4 484.3h0M385.4 484h0M390.4 484.8h0M395.3 485.2h0M400.3 483.3h0M405.2 481.2h0M410.2 484h0M415.2 483.9h0M420.1 484.4h0M425.1 487.4h0M430 484.9h0M435 484.8h0M439.9 482.8h0M444.9 484.5h0M449.9 485.4h0M454.8 484.7h0M459.8 484.3h0M464.7 485h0M469.7 484.8h0M474.7 486h0M479.6 484.7h0M484.6 482.9h0M489.5 481.5h0M494.5 482.9h0M499.5 483.5h0M504.4 482.5h0M509.4 482.4h0M514.3 481.7h0M519.3 482.6h0M524.2 484.1h0M529.2 484h0M534.2 483.9h0M539.1 483.8h0M544.1 484.2h0M549 485.7h0M554 487.2h0M559 486.1h0M563.9 486.9h0M568.9 484.7h0M573.8 484.7h0M578.8 486.2h0M583.8 483.6h0M588.7 483h0M593.7 483.6h0M598.6 481.8h0M603.6 481.9h0M608.6 485.1h0M613.5 483.2h0M618.5 483.4h0M623.4 483.4h0M628.4 483.2h0M633.3 485.1h0M638.3 485.4h0M643.3 485.6h0M648.2 485.4h0M653.2 484.9h0M658.1 486.4h0M663.1 485.8h0M668.1 483.8h0M673 484.2h0M678 484.3h0M682.9 486.7h0M687.9 485.8h0M692.9 485.2h0M697.8 484.5h0M702.8 484.8h0M707.7 483.3h0M712.7 484.1h0M717.6 484.3h0M722.6 484.1h0M727.6 483.5h0M732.5 484.4h0M737.5 482.9h0M742.4 483.4h0M747.4 484.2h0M752.4 484.2h0M757.3 515.3h0M762.3 540.1h0M767.2 561.4h0M772.2 579.4h0M777.2 594.5h0M782.1 607.5h0M787.1 618.1h0M792 627.8h0M797 636.2h0M801.9 641.7h0M806.9 647.6h0M811.9 652.8h0M816.8 656.6h0M821.8 660h0M826.7 661.9h0M831.7 664.9h0M836.7 667.7h0M841.6 668.8h0M846.6 670.4h0M851.5 670.2h0M856.5 674h0M861.5 676.2h0M866.4 675.1h0M871.4 675.7h0M876.3 676.8h0M881.3 678.5h0M886.2 676.5h0M891.2 675.9h0M896.2 678.9h0M901.1 677.2h0M906.1 678h0M911 676h0M916 677.7h0M921 678.5h0M925.9 677.6h0M930.9 678.3h0M935.8 679.4h0M940.8 678.6h0M945.8 679.9h0M950.7 680.8h0M955.7 677.8h0M960.6 679.5h0M965.6 680.1h0M970.5 679.6h0M975.5 681.3h0M980.5 681.4h0M985.4 680.5h0" stroke="#eb7050" stroke-width="7.0" stroke-linecap="round" fill="none"/>
<path clip-path="url(#ca)" d="M152.3 678L157.3 663.8L162.3 651.4L167.2 640.6L172.2 631.7L177.1 624.5L182.1 618L187 612.9L192 608.7L197 604.5L201.9 600.8L206.9 598.9L211.8 594.9L216.8 592.2L221.8 591L226.7 591.8L231.7 588.1L236.6 588.9L241.6 589L246.6 588.2L251.5 586.7L256.5 586.7L261.4 586.4L266.4 584.8L271.3 586.7L276.3 586.9L281.3 584.5L286.2 583.9L291.2 583.8L296.1 585.7L301.1 583.6L306.1 583.5L311 582.7L316 585.7L320.9 584.6L325.9 585.2L330.9 586.6L335.8 585.4L340.8 583.3L345.7 584.9L350.7 585.1L355.6 583.2L360.6 582.7L365.6 583L370.5 585L375.5 584.3L380.4 583.2L385.4 585L390.4 585.2L395.3 583.1L400.3 582.4L405.2 585.9L410.2 588.1L415.2 586.9L420.1 585.9L425.1 584.5L430 583.6L435 584.4L439.9 585.1L444.9 584.5L449.9 585.4L454.8 584.7L459.8 584.4L464.7 580.9L469.7 582.8L474.7 585.3L479.6 585.8L484.6 585.4L489.5 586.6L494.5 585.7L499.5 585.1L504.4 583.4L509.4 584.8L514.3 585.6L519.3 586.4L524.2 586L529.2 584.7L534.2 584.3L539.1 583L544.1 584.5L549 583L554 583.7L559 584.7L563.9 587L568.9 586.1L573.8 583.3L578.8 582.3L583.8 583.5L588.7 583.3L593.7 584.7L598.6 585L603.6 584.9L608.6 583.1L613.5 583.6L618.5 584.5L623.4 584.6L628.4 583.6L633.3 583.9L638.3 584.8L643.3 582.3L648.2 583.5L653.2 583.8L658.1 582.2L663.1 582.6L668.1 584L673 583.9L678 585.6L682.9 585.8L687.9 586.9L692.9 583.7L697.8 586.1L702.8 584L707.7 585.3L712.7 585.7L717.6 584.7L722.6 583.8L727.6 583L732.5 581.8L737.5 583.2L742.4 583.2L747.4 584.4L752.4 599.2L757.3 611.6L762.3 622.3L767.2 631L772.2 638.4L777.2 644.5L782.1 649.8L787.1 654.7L792 658.5L797 661.4L801.9 664.8L806.9 666.8L811.9 668.2L816.8 671.1L821.8 672L826.7 672.7L831.7 674.2L836.7 674L841.6 677.2L846.6 674.8L851.5 674.6L856.5 675.9L861.5 677.4L866.4 677.7L871.4 678.8L876.3 677.9L881.3 679.6L886.2 679L891.2 678.2L896.2 680L901.1 679.7L906.1 679.4L911 680.4L916 678.5L921 679.2L925.9 681L930.9 680.1L935.8 680.6L940.8 680.5L945.8 679.9L950.7 680.3L955.7 679.1L960.6 680.2L965.6 679L970.5 679.6L975.5 679.2L980.5 680.4" fill="none" stroke="#f29f69" stroke-width="1.5" stroke-linejoin="round"/>
<path d="M132.5 681.4h0M152.3 678h0M157.3 663.8h0M162.3 651.4h0M167.2 640.6h0M172.2 631.7h0M177.1 624.5h0M182.1 618h0M187 612.9h0M192 608.7h0M197 604.5h0M201.9 600.8h0M206.9 598.9h0M211.8 594.9h0M216.8 592.2h0M221.8 591h0M226.7 591.8h0M231.7 588.1h0M236.6 588.9h0M241.6 589h0M246.6 588.2h0M251.5 586.7h0M256.5 586.7h0M261.4 586.4h0M266.4 584.8h0M271.3 586.7h0M276.3 586.9h0M281.3 584.5h0M286.2 583.9h0M291.2 583.8h0M296.1 585.7h0M301.1 583.6h0M306.1 583.5h0M311 582.7h0M316 585.7h0M320.9 584.6h0M325.9 585.2h0M330.9 586.6h0M335.8 585.4h0M340.8 583.3h0M345.7 584.9h0M350.7 585.1h0M355.6 583.2h0M360.6 582.7h0M365.6 583h0M370.5 585h0M375.5 584.3h0M380.4 583.2h0M385.4 585h0M390.4 585.2h0M395.3 583.1h0M400.3 582.4h0M405.2 585.9h0M410.2 588.1h0M415.2 586.9h0M420.1 585.9h0M425.1 584.5h0M430 583.6h0M435 584.4h0M439.9 585.1h0M444.9 584.5h0M449.9 585.4h0M454.8 584.7h0M459.8 584.4h0M464.7 580.9h0M469.7 582.8h0M474.7 585.3h0M479.6 585.8h0M484.6 585.4h0M489.5 586.6h0M494.5 585.7h0M499.5 585.1h0M504.4 583.4h0M509.4 584.8h0M514.3 585.6h0M519.3 586.4h0M524.2 586h0M529.2 584.7h0M534.2 584.3h0M539.1 583h0M544.1 584.5h0M549 583h0M554 583.7h0M559 584.7h0M563.9 587h0M568.9 586.1h0M573.8 583.3h0M578.8 582.3h0M583.8 583.5h0M588.7 583.3h0M593.7 584.7h0M598.6 585h0M603.6 584.9h0M608.6 583.1h0M613.5 583.6h0M618.5 584.5h0M623.4 584.6h0M628.4 583.6h0M633.3 583.9h0M638.3 584.8h0M643.3 582.3h0M648.2 583.5h0M653.2 583.8h0M658.1 582.2h0M663.1 582.6h0M668.1 584h0M673 583.9h0M678 585.6h0M682.9 585.8h0M687.9 586.9h0M692.9 583.7h0M697.8 586.1h0M702.8 584h0M707.7 585.3h0M712.7 585.7h0M717.6 584.7h0M722.6 583.8h0M727.6 583h0M732.5 581.8h0M737.5 583.2h0M742.4 583.2h0M747.4 584.4h0M752.4 599.2h0M757.3 611.6h0M762.3 622.3h0M767.2 631h0M772.2 638.4h0M777.2 644.5h0M782.1 649.8h0M787.1 654.7h0M792 658.5h0M797 661.4h0M801.9 664.8h0M806.9 666.8h0M811.9 668.2h0M816.8 671.1h0M821.8 672h0M826.7 672.7h0M831.7 674.2h0M836.7 674h0M841.6 677.2h0M846.6 674.8h0M851.5 674.6h0M856.5 675.9h0M861.5 677.4h0M866.4 677.7h0M871.4 678.8h0M876.3 677.9h0M881.3 679.6h0M886.2 679h0M891.2 678.2h0M896.2 680h0M901.1 679.7h0M906.1 679.4h0M911 680.4h0M916 678.5h0M921 679.2h0M925.9 681h0M930.9 680.1h0M935.8 680.6h0M940.8 680.5h0M945.8 679.9h0M950.7 680.3h0M955.7 679.1h0M960.6 680.2h0M965.6 679h0M970.5 679.6h0M975.5 679.2h0M980.5 680.4h0" stroke="#f29f69" stroke-width="7.0" stroke-linecap="round" fill="none"/>
</g>
<g>
<path clip-path="url(#cb)" d="M131.1 1180.4L136.1 1180.6L141 1179.9L146 1180.2L150.9 1179.3L155.9 859.1L160.9 911L165.8 950.8L170.8 984.4L175.7 1012.6L180.7 1036.9L185.7 1056.3L190.6 1072.9L195.6 1083.1L200.5 1094.1L205.5 1096.6L210.5 1103.2L215.4 1100.7L220.4 1100.2L225.3 1100.5L230.3 1102.1L235.2 1102.5L240.2 1102.8L245.2 1102.3L250.1 1101.1L255.1 1101.4L260 1100.2L265 1098.9L270 1098.1L274.9 1101L279.9 1100L284.8 1100.3L289.8 1101.4L294.8 1102.9L299.7 1101.6L304.7 1099.8L309.6 1100.2L314.6 1100.6L319.5 1100.3L324.5 1099.1L329.5 1101.1L334.4 1104.1L339.4 1103.8L344.3 1105.5L349.3 1106.6L354.3 1102.4L359.2 1099L364.2 1100.4L369.1 1102.7L374.1 1101.9L379.1 1099.3L384 1099.7L389 1100.4L393.9 1100.5L398.9 1100.1L403.8 1099.1L408.8 1099.2L413.8 1100.5L418.7 1101.7L423.7 1100.7L428.6 1100.8L433.6 1100L438.6 1101.9L443.5 1101.4L448.5 1101.3L453.4 1101.5L458.4 1098L463.4 1097.8L468.3 1100L473.3 1099.5L478.2 1101L483.2 1104L488.1 1101.6L493.1 1100.5L498.1 1101L503 1102.2L508 1101.6L512.9 1100.3L517.9 1098.7L522.9 1099.4L527.8 1099.6L532.8 1098.6L537.7 1100.8L542.7 1102.3L547.7 1102.6L552.6 1098.7L557.6 1097.9L562.5 1098.3L567.5 1099L572.4 1099.9L577.4 1100.3L582.4 1100.9L587.3 1100.9L592.3 1099.8L597.2 1098L602.2 1099L607.2 1100.6L612.1 1101.7L617.1 1100.9L622 1098.3L627 1099L632 1100.3L636.9 1101.6L641.9 1102.3L646.8 1100.8L651.8 1099.5L656.8 1100.8L661.7 1101.2L666.7 1101L671.6 1101.3L676.6 1102.9L681.5 1102.1L686.5 1101.5L691.5 1100.1L696.4 1100.9L701.4 1099.3L706.3 1098.2L711.3 1100.5L716.3 1101.4L721.2 1100.6L726.2 1101L731.1 1101.7L736.1 1099.3L741.1 1097.5L746 1100L751 1540.1L755.9 1411L760.9 1375.1L765.8 1345.5L770.8 1319.8L775.8 1297.6L780.7 1279.7L785.7 1263.8L790.6 1250.5L795.6 1240L800.6 1230.6L805.5 1222.5L810.5 1216.7L815.4 1211.7L820.4 1207.1L825.4 1202.4L830.3 1198.3L835.3 1195.7L840.2 1194.2L845.2 1193.3L850.1 1190.8L855.1 1188.5L860.1 1187.3L865 1185.9L870 1185L874.9 1184.8L879.9 1184L884.9 1183.1L889.8 1182.6L894.8 1181.1L899.7 1179.5L904.7 1180.4L909.7 1181.9L914.6 1183.2L919.6 1182.3L924.5 1183.7L929.5 1183L934.4 1180.1L939.4 1179.6L944.4 1181.2L949.3 1182.7L954.3 1181.9L959.2 1181L964.2 1178.9L969.2 1177.3L974.1 1179.4L979.1 1181.5L984 1181.9L989 1180.8L994 1180.9L998.9 1181.5" fill="none" stroke="#2e1142" stroke-width="1.5" stroke-linejoin="round"/>
<path d="M136.1 1180.6h0M141 1179.9h0M146 1180.2h0M150.9 1179.3h0M155.9 859.1h0M160.9 911h0M165.8 950.8h0M170.8 984.4h0M175.7 1012.6h0M180.7 1036.9h0M185.7 1056.3h0M190.6 1072.9h0M195.6 1083.1h0M200.5 1094.1h0M205.5 1096.6h0M210.5 1103.2h0M215.4 1100.7h0M220.4 1100.2h0M225.3 1100.5h0M230.3 1102.1h0M235.2 1102.5h0M240.2 1102.8h0M245.2 1102.3h0M250.1 1101.1h0M255.1 1101.4h0M260 1100.2h0M265 1098.9h0M270 1098.1h0M274.9 1101h0M279.9 1100h0M284.8 1100.3h0M289.8 1101.4h0M294.8 1102.9h0M299.7 1101.6h0M304.7 1099.8h0M309.6 1100.2h0M314.6 1100.6h0M319.5 1100.3h0M324.5 1099.1h0M329.5 1101.1h0M334.4 1104.1h0M339.4 1103.8h0M344.3 1105.5h0M349.3 1106.6h0M354.3 1102.4h0M359.2 1099h0M364.2 1100.4h0M369.1 1102.7h0M374.1 1101.9h0M379.1 1099.3h0M384 1099.7h0M389 1100.4h0M393.9 1100.5h0M398.9 1100.1h0M403.8 1099.1h0M408.8 1099.2h0M413.8 1100.5h0M418.7 1101.7h0M423.7 1100.7h0M428.6 1100.8h0M433.6 1100h0M438.6 1101.9h0M443.5 1101.4h0M448.5 1101.3h0M453.4 1101.5h0M458.4 1098h0M463.4 1097.8h0M468.3 1100h0M473.3 1099.5h0M478.2 1101h0M483.2 1104h0M488.1 1101.6h0M493.1 1100.5h0M498.1 1101h0M503 1102.2h0M508 1101.6h0M512.9 1100.3h0M517.9 1098.7h0M522.9 1099.4h0M527.8 1099.6h0M532.8 1098.6h0M537.7 1100.8h0M542.7 1102.3h0M547.7 1102.6h0M552.6 1098.7h0M557.6 1097.9h0M562.5 1098.3h0M567.5 1099h0M572.4 1099.9h0M577.4 1100.3h0M582.4 1100.9h0M587.3 1100.9h0M592.3 1099.8h0M597.2 1098h0M602.2 1099h0M607.2 1100.6h0M612.1 1101.7h0M617.1 1100.9h0M622 1098.3h0M627 1099h0M632 1100.3h0M636.9 1101.6h0M641.9 1102.3h0M646.8 1100.8h0M651.8 1099.5h0M656.8 1100.8h0M661.7 1101.2h0M666.7 1101h0M671.6 1101.3h0M676.6 1102.9h0M681.5 1102.1h0M686.5 1101.5h0M691.5 1100.1h0M696.4 1100.9h0M701.4 1099.3h0M706.3 1098.2h0M711.3 1100.5h0M716.3 1101.4h0M721.2 1100.6h0M726.2 1101h0M731.1 1101.7h0M736.1 1099.3h0M741.1 1097.5h0M746 1100h0M755.9 1411h0M760.9 1375.1h0M765.8 1345.5h0M770.8 1319.8h0M775.8 1297.6h0M780.7 1279.7h0M785.7 1263.8h0M790.6 1250.5h0M795.6 1240h0M800.6 1230.6h0M805.5 1222.5h0M810.5 1216.7h0M815.4 1211.7h0M820.4 1207.1h0M825.4 1202.4h0M830.3 1198.3h0M835.3 1195.7h0M840.2 1194.2h0M845.2 1193.3h0M850.1 1190.8h0M855.1 1188.5h0M860.1 1187.3h0M865 1185.9h0M870 1185h0M874.9 1184.8h0M879.9 1184h0M884.9 1183.1h0M889.8 1182.6h0M894.8 1181.1h0M899.7 1179.5h0M904.7 1180.4h0M909.7 1181.9h0M914.6 1183.2h0M919.6 1182.3h0M924.5 1183.7h0M929.5 1183h0M934.4 1180.1h0M939.4 1179.6h0M944.4 1181.2h0M949.3 1182.7h0M954.3 1181.9h0M959.2 1181h0M964.2 1178.9h0M969.2 1177.3h0M974.1 1179.4h0M979.1 1181.5h0M984 1181.9h0M989 1180.8h0M994 1180.9h0M998.9 1181.5h0" stroke="#2e1142" stroke-width="7.0" stroke-linecap="round" fill="none"/>
<path clip-path="url(#cb)" d="M132.4 1179.9L137.3 1180.3L142.3 1180.4L147.2 1179.5L152.2 854.6L157.1 910.3L162.1 954.4L167.1 986.5L172 1015.1L177 1042.4L181.9 1062.5L186.9 1078.3L191.9 1091.5L196.8 1105.7L201.8 1113.1L206.7 1120.1L211.7 1126.8L216.7 1133.7L221.6 1134.1L226.6 1132.5L231.5 1131.8L236.5 1131L241.4 1131.7L246.4 1132.9L251.4 1133.2L256.3 1133.2L261.3 1134.4L266.2 1134L271.2 1132.5L276.2 1131.8L281.1 1133.7L286.1 1134.2L291 1133.6L296 1132.7L301 1133.2L305.9 1133.1L310.9 1134.9L315.8 1134.9L320.8 1134.3L325.7 1133.1L330.7 1133.5L335.7 1135.9L340.6 1135.8L345.6 1134.6L350.5 1135.5L355.5 1135.8L360.5 1133.6L365.4 1133.2L370.4 1133.7L375.3 1134.2L380.3 1133.4L385.3 1133.8L390.2 1133.6L395.2 1135.2L400.1 1135.5L405.1 1134.7L410 1134.7L415 1133.8L420 1134.1L424.9 1135.2L429.9 1134.7L434.8 1134.3L439.8 1133.7L444.8 1134.8L449.7 1134.5L454.7 1132.2L459.6 1130.6L464.6 1131.2L469.6 1133.3L474.5 1133.4L479.5 1132.6L484.4 1134.2L489.4 1135.3L494.3 1134.4L499.3 1134.1L504.3 1135.7L509.2 1137L514.2 1136.3L519.1 1134.5L524.1 1134.9L529.1 1134.6L534 1133.9L539 1133.7L543.9 1134.2L548.9 1134.2L553.9 1135.2L558.8 1135.4L563.8 1135.1L568.7 1133.5L573.7 1134.2L578.6 1135.2L583.6 1135.1L588.6 1134.5L593.5 1134.3L598.5 1136.2L603.4 1136.2L608.4 1134.1L613.4 1131.3L618.3 1132.3L623.3 1133.7L628.2 1132.7L633.2 1131.9L638.2 1133.9L643.1 1134.3L648.1 1132.9L653 1133L658 1133.5L662.9 1133.8L667.9 1131.7L672.9 1131.5L677.8 1132.7L682.8 1134.1L687.7 1136L692.7 1134.5L697.7 1134.1L702.6 1133.6L707.6 1133.6L712.5 1135.1L717.5 1136.1L722.5 1134.9L727.4 1135.1L732.4 1135.2L737.3 1135.3L742.3 1135.8L747.2 1136.5L752.2 1473.3L757.2 1402L762.1 1367.3L767.1 1338.2L772 1314.4L777 1294.4L782 1276.8L786.9 1261.9L791.9 1249.2L796.8 1238.6L801.8 1230L806.8 1222.1L811.7 1215.9L816.7 1210.2L821.6 1205.6L826.6 1201.8L831.6 1198.5L836.5 1195.9L841.5 1193.8L846.4 1193L851.4 1189.6L856.3 1186L861.3 1184.3L866.3 1184L871.2 1184.2L876.2 1184.3L881.1 1182.7L886.1 1182.8L891.1 1182.9L896 1182.6L901 1182.2L905.9 1182.2L910.9 1182.1L915.9 1182.4L920.8 1181.1L925.8 1179.1L930.7 1180.3L935.7 1180.8L940.6 1180L945.6 1180.1L950.6 1181.3L955.5 1180.6L960.5 1179.5L965.4 1179.7L970.4 1179.6L975.4 1179L980.3 1180.3L985.3 1180.4L990.2 1180.1L995.2 1179.6L1000.2 1181.6" fill="none" stroke="#561657" stroke-width="1.5" stroke-linejoin="round"/>
<path d="M137.3 1180.3h0M142.3 1180.4h0M147.2 1179.5h0M152.2 854.6h0M157.1 910.3h0M162.1 954.4h0M167.1 986.5h0M172 1015.1h0M177 1042.4h0M181.9 1062.5h0M186.9 1078.3h0M191.9 1091.5h0M196.8 1105.7h0M201.8 1113.1h0M206.7 1120.1h0M211.7 1126.8h0M216.7 1133.7h0M221.6 1134.1h0M226.6 1132.5h0M231.5 1131.8h0M236.5 1131h0M241.4 1131.7h0M246.4 1132.9h0M251.4 1133.2h0M256.3 1133.2h0M261.3 1134.4h0M266.2 1134h0M271.2 1132.5h0M276.2 1131.8h0M281.1 1133.7h0M286.1 1134.2h0M291 1133.6h0M296 1132.7h0M301 1133.2h0M305.9 1133.1h0M310.9 1134.9h0M315.8 1134.9h0M320.8 1134.3h0M325.7 1133.1h0M330.7 1133.5h0M335.7 1135.9h0M340.6 1135.8h0M345.6 1134.6h0M350.5 1135.5h0M355.5 1135.8h0M360.5 1133.6h0M365.4 1133.2h0M370.4 1133.7h0M375.3 1134.2h0M380.3 1133.4h0M385.3 1133.8h0M390.2 1133.6h0M395.2 1135.2h0M400.1 1135.5h0M405.1 1134.7h0M410 1134.7h0M415 1133.8h0M420 1134.1h0M424.9 1135.2h0M429.9 1134.7h0M434.8 1134.3h0M439.8 1133.7h0M444.8 1134.8h0M449.7 1134.5h0M454.7 1132.2h0M459.6 1130.6h0M464.6 1131.2h0M469.6 1133.3h0M474.5 1133.4h0M479.5 1132.6h0M484.4 1134.2h0M489.4 1135.3h0M494.3 1134.4h0M499.3 1134.1h0M504.3 1135.7h0M509.2 1137h0M514.2 1136.3h0M519.1 1134.5h0M524.1 1134.9h0M529.1 1134.6h0M534 1133.9h0M539 1133.7h0M543.9 1134.2h0M548.9 1134.2h0M553.9 1135.2h0M558.8 1135.4h0M563.8 1135.1h0M568.7 1133.5h0M573.7 1134.2h0M578.6 1135.2h0M583.6 1135.1h0M588.6 1134.5h0M593.5 1134.3h0M598.5 1136.2h0M603.4 1136.2h0M608.4 1134.1h0M613.4 1131.3h0M618.3 1132.3h0M623.3 1133.7h0M628.2 1132.7h0M633.2 1131.9h0M638.2 1133.9h0M643.1 1134.3h0M648.1 1132.9h0M653 1133h0M658 1133.5h0M662.9 1133.8h0M667.9 1131.7h0M672.9 1131.5h0M677.8 1132.7h0M682.8 1134.1h0M687.7 1136h0M692.7 1134.5h0M697.7 1134.1h0M702.6 1133.6h0M707.6 1133.6h0M712.5 1135.1h0M717.5 1136.1h0M722.5 1134.9h0M727.4 1135.1h0M732.4 1135.2h0M737.3 1135.3h0M742.3 1135.8h0M747.2 1136.5h0M752.2 1473.3h0M757.2 1402h0M762.1 1367.3h0M767.1 1338.2h0M772 1314.4h0M777 1294.4h0M782 1276.8h0M786.9 1261.9h0M791.9 1249.2h0M796.8 1238.6h0M801.8 1230h0M806.8 1222.1h0M811.7 1215.9h0M816.7 1210.2h0M821.6 1205.6h0M826.6 1201.8h0M831.6 1198.5h0M836.5 1195.9h0M841.5 1193.8h0M846.4 1193h0M851.4 1189.6h0M856.3 1186h0M861.3 1184.3h0M866.3 1184h0M871.2 1184.2h0M876.2 1184.3h0M881.1 1182.7h0M886.1 1182.8h0M891.1 1182.9h0M896 1182.6h0M901 1182.2h0M905.9 1182.2h0M910.9 1182.1h0M915.9 1182.4h0M920.8 1181.1h0M925.8 1179.1h0M930.7 1180.3h0M935.7 1180.8h0M940.6 1180h0M945.6 1180.1h0M950.6 1181.3h0M955.5 1180.6h0M960.5 1179.5h0M965.4 1179.7h0M970.4 1179.6h0M975.4 1179h0M980.3 1180.3h0M985.3 1180.4h0M990.2 1180.1h0M995.2 1179.6h0M1000.2 1181.6h0" stroke="#561657" stroke-width="7.0" stroke-linecap="round" fill="none"/>
<path clip-path="url(#cb)" d="M130.5 1179.6L135.5 1179.9L140.4 1179.9L145.4 1179.9L150.4 1179.9L155.3 936.6L160.3 974.4L165.2 1006L170.2 1032.3L175.1 1054.2L180.1 1072.2L185.1 1087.2L190 1099.7L195 1109.8L199.9 1118.5L204.9 1125.5L209.9 1130.9L214.8 1137.2L219.8 1141.4L224.7 1144.2L229.7 1147.1L234.7 1149.7L239.6 1152.4L244.6 1154.9L249.5 1156L254.5 1157.5L259.4 1157.2L264.4 1158.2L269.4 1158.9L274.3 1159L279.3 1159.4L284.2 1161L289.2 1161.9L294.2 1162L299.1 1162.5L304.1 1161.3L309 1159.9L314 1160.9L319 1160.9L323.9 1161.7L328.9 1161.2L333.8 1161.2L338.8 1161L343.7 1160.1L348.7 1159.5L353.7 1160.4L358.6 1161.2L363.6 1161.8L368.5 1161.1L373.5 1161L378.5 1160.6L383.4 1160.5L388.4 1160.4L393.3 1162.4L398.3 1161.8L403.3 1160.8L408.2 1161.5L413.2 1162.1L418.1 1162.1L423.1 1162.4L428 1160.8L433 1159L438 1160L442.9 1162L447.9 1162.4L452.8 1161.6L457.8 1160.8L462.8 1161.8L467.7 1161.8L472.7 1160.5L477.6 1160.4L482.6 1161.7L487.6 1162.7L492.5 1163.1L497.5 1162.9L502.4 1163.1L507.4 1161.5L512.3 1161.4L517.3 1160.5L522.3 1159.3L527.2 1160.1L532.2 1161.6L537.1 1160.6L542.1 1160.3L547.1 1161.8L552 1162.3L557 1162.1L561.9 1162.2L566.9 1161.3L571.9 1163.1L576.8 1162.9L581.8 1161.9L586.7 1161.5L591.7 1161.1L596.6 1161.1L601.6 1161.1L606.6 1161L611.5 1162.7L616.5 1162.1L621.4 1161.8L626.4 1161.3L631.4 1161.3L636.3 1162.1L641.3 1161.8L646.2 1160.7L651.2 1160.9L656.2 1161.1L661.1 1159.2L666.1 1159.2L671 1161.6L676 1160.7L680.9 1159L685.9 1159.8L690.9 1160.9L695.8 1161.5L700.8 1161.8L705.7 1161.7L710.7 1161.6L715.7 1161L720.6 1161.5L725.6 1162.1L730.5 1162.4L735.5 1161.9L740.5 1162.1L745.4 1161.4L750.4 1450.6L755.3 1390.2L760.3 1357.7L765.3 1330.2L770.2 1307.1L775.2 1287.6L780.1 1271L785.1 1256.9L790 1245.2L795 1234.9L800 1226.7L804.9 1219.8L809.9 1213.8L814.8 1208.6L819.8 1204.2L824.8 1200.5L829.7 1197.2L834.7 1195.1L839.6 1193.2L844.6 1192.2L849.6 1190.6L854.5 1188L859.5 1185.8L864.4 1185.3L869.4 1185.7L874.3 1184.5L879.3 1182.5L884.3 1182.4L889.2 1182.2L894.2 1181L899.1 1179.8L904.1 1180.2L909.1 1180.9L914 1180.8L919 1180.7L923.9 1181.4L928.9 1181.6L933.9 1181.1L938.8 1181.2L943.8 1180.7L948.7 1179.9L953.7 1179.1L958.6 1180.4L963.6 1180.6L968.6 1180.3L973.5 1179.7L978.5 1179.5L983.4 1180.4L988.4 1181.1L993.4 1181.6L998.3 1180.9" fill="none" stroke="#741a66" stroke-width="1.5" stroke-linejoin="round"/>
<path d="M135.5 1179.9h0M140.4 1179.9h0M145.4 1179.9h0M150.4 1179.9h0M155.3 936.6h0M160.3 974.4h0M165.2 1006h0M170.2 1032.3h0M175.1 1054.2h0M180.1 1072.2h0M185.1 1087.2h0M190 1099.7h0M195 1109.8h0M199.9 1118.5h0M204.9 1125.5h0M209.9 1130.9h0M214.8 1137.2h0M219.8 1141.4h0M224.7 1144.2h0M229.7 1147.1h0M234.7 1149.7h0M239.6 1152.4h0M244.6 1154.9h0M249.5 1156h0M254.5 1157.5h0M259.4 1157.2h0M264.4 1158.2h0M269.4 1158.9h0M274.3 1159h0M279.3 1159.4h0M284.2 1161h0M289.2 1161.9h0M294.2 1162h0M299.1 1162.5h0M304.1 1161.3h0M309 1159.9h0M314 1160.9h0M319 1160.9h0M323.9 1161.7h0M328.9 1161.2h0M333.8 1161.2h0M338.8 1161h0M343.7 1160.1h0M348.7 1159.5h0M353.7 1160.4h0M358.6 1161.2h0M363.6 1161.8h0M368.5 1161.1h0M373.5 1161h0M378.5 1160.6h0M383.4 1160.5h0M388.4 1160.4h0M393.3 1162.4h0M398.3 1161.8h0M403.3 1160.8h0M408.2 1161.5h0M413.2 1162.1h0M418.1 1162.1h0M423.1 1162.4h0M428 1160.8h0M433 1159h0M438 1160h0M442.9 1162h0M447.9 1162.4h0M452.8 1161.6h0M457.8 1160.8h0M462.8 1161.8h0M467.7 1161.8h0M472.7 1160.5h0M477.6 1160.4h0M482.6 1161.7h0M487.6 1162.7h0M492.5 1163.1h0M497.5 1162.9h0M502.4 1163.1h0M507.4 1161.5h0M512.3 1161.4h0M517.3 1160.5h0M522.3 1159.3h0M527.2 1160.1h0M532.2 1161.6h0M537.1 1160.6h0M542.1 1160.3h0M547.1 1161.8h0M552 1162.3h0M557 1162.1h0M561.9 1162.2h0M566.9 1161.3h0M571.9 1163.1h0M576.8 1162.9h0M581.8 1161.9h0M586.7 1161.5h0M591.7 1161.1h0M596.6 1161.1h0M601.6 1161.1h0M606.6 1161h0M611.5 1162.7h0M616.5 1162.1h0M621.4 1161.8h0M626.4 1161.3h0M631.4 1161.3h0M636.3 1162.1h0M641.3 1161.8h0M646.2 1160.7h0M651.2 1160.9h0M656.2 1161.1h0M661.1 1159.2h0M666.1 1159.2h0M671 1161.6h0M676 1160.7h0M680.9 1159h0M685.9 1159.8h0M690.9 1160.9h0M695.8 1161.5h0M700.8 1161.8h0M705.7 1161.7h0M710.7 1161.6h0M715.7 1161h0M720.6 1161.5h0M725.6 1162.1h0M730.5 1162.4h0M735.5 1161.9h0M740.5 1162.1h0M745.4 1161.4h0M750.4 1450.6h0M755.3 1390.2h0M760.3 1357.7h0M765.3 1330.2h0M770.2 1307.1h0M775.2 1287.6h0M780.1 1271h0M785.1 1256.9h0M790 1245.2h0M795 1234.9h0M800 1226.7h0M804.9 1219.8h0M809.9 1213.8h0M814.8 1208.6h0M819.8 1204.2h0M824.8 1200.5h0M829.7 1197.2h0M834.7 1195.1h0M839.6 1193.2h0M844.6 1192.2h0M849.6 1190.6h0M854.5 1188h0M859.5 1185.8h0M864.4 1185.3h0M869.4 1185.7h0M874.3 1184.5h0M879.3 1182.5h0M884.3 1182.4h0M889.2 1182.2h0M894.2 1181h0M899.1 1179.8h0M904.1 1180.2h0M909.1 1180.9h0M914 1180.8h0M919 1180.7h0M923.9 1181.4h0M928.9 1181.6h0M933.9 1181.1h0M938.8 1181.2h0M943.8 1180.7h0M948.7 1179.9h0M953.7 1179.1h0M958.6 1180.4h0M963.6 1180.6h0M968.6 1180.3h0M973.5 1179.7h0M978.5 1179.5h0M983.4 1180.4h0M988.4 1181.1h0M993.4 1181.6h0M998.3 1180.9h0" stroke="#741a66" stroke-width="7.0" stroke-linecap="round" fill="none"/>
<path clip-path="url(#cb)" d="M130.9 1179.5L135.8 1179.8L140.8 1179.6L145.7 1179.5L150.7 1179.6L155.7 975.9L160.6 1007.4L165.6 1033.6L170.5 1055.9L175.5 1074.6L180.5 1089.5L185.4 1102.6L190.4 1113.7L195.3 1123.3L200.3 1130.8L205.2 1137.2L210.2 1141.7L215.2 1147.7L220.1 1152.6L225.1 1155.9L230 1159.7L235 1161.7L240 1162.6L244.9 1164.3L249.9 1165.3L254.8 1165.7L259.8 1165.4L264.8 1166.5L269.7 1167.9L274.7 1168.5L279.6 1169.9L284.6 1170.2L289.5 1170.1L294.5 1171.4L299.5 1171.7L304.4 1172L309.4 1171.1L314.3 1170.4L319.3 1171.6L324.3 1171.9L329.2 1172.6L334.2 1173.1L339.1 1172.6L344.1 1170.6L349.1 1169.8L354 1171.2L359 1172.2L363.9 1171.8L368.9 1171.9L373.8 1171.5L378.8 1171.6L383.8 1171.7L388.7 1171.7L393.7 1172.5L398.6 1173L403.6 1173.5L408.6 1173.2L413.5 1173.3L418.5 1172.8L423.4 1172.8L428.4 1172.2L433.4 1172.2L438.3 1173.2L443.3 1173.3L448.2 1172.8L453.2 1171.4L458.1 1170.6L463.1 1171.2L468.1 1171.8L473 1171.6L478 1172.5L482.9 1171.7L487.9 1172.9L492.9 1173.5L497.8 1170.6L502.8 1170.7L507.7 1172.4L512.7 1172.3L517.7 1172.3L522.6 1172.5L527.6 1173.3L532.5 1172.9L537.5 1171.9L542.4 1171.6L547.4 1171.2L552.4 1171.2L557.3 1170.7L562.3 1172L567.2 1172.6L572.2 1173.7L577.2 1173.2L582.1 1171.8L587.1 1172.3L592 1172L597 1172.3L602 1173L606.9 1172.8L611.9 1172.7L616.8 1172.4L621.8 1171.6L626.7 1171.7L631.7 1172.6L636.7 1172.8L641.6 1172.2L646.6 1171.9L651.5 1170.8L656.5 1169.9L661.5 1170.9L666.4 1172L671.4 1172.5L676.3 1173L681.3 1173.2L686.3 1173.2L691.2 1172.8L696.2 1172.4L701.1 1171.8L706.1 1172.3L711 1172.7L716 1172.6L721 1171.2L725.9 1171L730.9 1170.6L735.8 1170.8L740.8 1171L745.8 1171.7L750.7 1416.6L755.7 1362.6L760.6 1334.7L765.6 1310.5L770.6 1290.2L775.5 1273.3L780.5 1258.9L785.4 1246.7L790.4 1236.7L795.4 1228L800.3 1220.8L805.3 1214.7L810.2 1209.4L815.2 1204.8L820.1 1200.9L825.1 1197.8L830.1 1195.2L835 1192.4L840 1190.5L844.9 1188.7L849.9 1187.9L854.9 1186.7L859.8 1185.4L864.8 1184.9L869.7 1184.9L874.7 1182.9L879.7 1181.6L884.6 1182.8L889.6 1181.9L894.5 1181.5L899.5 1181.4L904.4 1180.9L909.4 1181.6L914.4 1180.9L919.3 1180.1L924.3 1180.7L929.2 1180.9L934.2 1180.7L939.2 1180.4L944.1 1179.8L949.1 1180.4L954 1180.2L959 1180.7L964 1180.1L968.9 1180.7L973.9 1181.6L978.8 1180.9L983.8 1180.8L988.7 1180.3L993.7 1179.5L998.7 1180.6" fill="none" stroke="#9a2068" stroke-width="1.5" stroke-linejoin="round"/>
<path d="M135.8 1179.8h0M140.8 1179.6h0M145.7 1179.5h0M150.7 1179.6h0M155.7 975.9h0M160.6 1007.4h0M165.6 1033.6h0M170.5 1055.9h0M175.5 1074.6h0M180.5 1089.5h0M185.4 1102.6h0M190.4 1113.7h0M195.3 1123.3h0M200.3 1130.8h0M205.2 1137.2h0M210.2 1141.7h0M215.2 1147.7h0M220.1 1152.6h0M225.1 1155.9h0M230 1159.7h0M235 1161.7h0M240 1162.6h0M244.9 1164.3h0M249.9 1165.3h0M254.8 1165.7h0M259.8 1165.4h0M264.8 1166.5h0M269.7 1167.9h0M274.7 1168.5h0M279.6 1169.9h0M284.6 1170.2h0M289.5 1170.1h0M294.5 1171.4h0M299.5 1171.7h0M304.4 1172h0M309.4 1171.1h0M314.3 1170.4h0M319.3 1171.6h0M324.3 1171.9h0M329.2 1172.6h0M334.2 1173.1h0M339.1 1172.6h0M344.1 1170.6h0M349.1 1169.8h0M354 1171.2h0M359 1172.2h0M363.9 1171.8h0M368.9 1171.9h0M373.8 1171.5h0M378.8 1171.6h0M383.8 1171.7h0M388.7 1171.7h0M393.7 1172.5h0M398.6 1173h0M403.6 1173.5h0M408.6 1173.2h0M413.5 1173.3h0M418.5 1172.8h0M423.4 1172.8h0M428.4 1172.2h0M433.4 1172.2h0M438.3 1173.2h0M443.3 1173.3h0M448.2 1172.8h0M453.2 1171.4h0M458.1 1170.6h0M463.1 1171.2h0M468.1 1171.8h0M473 1171.6h0M478 1172.5h0M482.9 1171.7h0M487.9 1172.9h0M492.9 1173.5h0M497.8 1170.6h0M502.8 1170.7h0M507.7 1172.4h0M512.7 1172.3h0M517.7 1172.3h0M522.6 1172.5h0M527.6 1173.3h0M532.5 1172.9h0M537.5 1171.9h0M542.4 1171.6h0M547.4 1171.2h0M552.4 1171.2h0M557.3 1170.7h0M562.3 1172h0M567.2 1172.6h0M572.2 1173.7h0M577.2 1173.2h0M582.1 1171.8h0M587.1 1172.3h0M592 1172h0M597 1172.3h0M602 1173h0M606.9 1172.8h0M611.9 1172.7h0M616.8 1172.4h0M621.8 1171.6h0M626.7 1171.7h0M631.7 1172.6h0M636.7 1172.8h0M641.6 1172.2h0M646.6 1171.9h0M651.5 1170.8h0M656.5 1169.9h0M661.5 1170.9h0M666.4 1172h0M671.4 1172.5h0M676.3 1173h0M681.3 1173.2h0M686.3 1173.2h0M691.2 1172.8h0M696.2 1172.4h0M701.1 1171.8h0M706.1 1172.3h0M711 1172.7h0M716 1172.6h0M721 1171.2h0M725.9 1171h0M730.9 1170.6h0M735.8 1170.8h0M740.8 1171h0M745.8 1171.7h0M750.7 1416.6h0M755.7 1362.6h0M760.6 1334.7h0M765.6 1310.5h0M770.6 1290.2h0M775.5 1273.3h0M780.5 1258.9h0M785.4 1246.7h0M790.4 1236.7h0M795.4 1228h0M800.3 1220.8h0M805.3 1214.7h0M810.2 1209.4h0M815.2 1204.8h0M820.1 1200.9h0M825.1 1197.8h0M830.1 1195.2h0M835 1192.4h0M840 1190.5h0M844.9 1188.7h0M849.9 1187.9h0M854.9 1186.7h0M859.8 1185.4h0M864.8 1184.9h0M869.7 1184.9h0M874.7 1182.9h0M879.7 1181.6h0M884.6 1182.8h0M889.6 1181.9h0M894.5 1181.5h0M899.5 1181.4h0M904.4 1180.9h0M909.4 1181.6h0M914.4 1180.9h0M919.3 1180.1h0M924.3 1180.7h0M929.2 1180.9h0M934.2 1180.7h0M939.2 1180.4h0M944.1 1179.8h0M949.1 1180.4h0M954 1180.2h0M959 1180.7h0M964 1180.1h0M968.9 1180.7h0M973.9 1181.6h0M978.8 1180.9h0M983.8 1180.8h0M988.7 1180.3h0M993.7 1179.5h0M998.7 1180.6h0" stroke="#9a2068" stroke-width="7.0" stroke-linecap="round" fill="none"/>
<path clip-path="url(#cb)" d="M130.7 1179.8L135.7 1179.7L140.6 1179.6L145.6 1179.7L150.6 1180L155.5 1016.7L160.5 1040.4L165.4 1060.7L170.4 1078L175.3 1093L180.3 1105.6L185.3 1116.1L190.2 1125.4L195.2 1133.2L200.1 1139.5L205.1 1145.1L210.1 1150.5L215 1155.2L220 1158.8L224.9 1161.4L229.9 1163.2L234.9 1165.3L239.8 1167.9L244.8 1168.6L249.7 1170.4L254.7 1171.4L259.6 1171.5L264.6 1172.6L269.6 1173.7L274.5 1173.1L279.5 1174.3L284.4 1174.6L289.4 1174.5L294.4 1174.4L299.3 1175.3L304.3 1175.4L309.2 1175.9L314.2 1175.7L319.2 1176.5L324.1 1176.3L329.1 1175.3L334 1175.9L339 1175.9L343.9 1175.1L348.9 1176.2L353.9 1177L358.8 1176.8L363.8 1177.2L368.7 1176.1L373.7 1176L378.7 1177.1L383.6 1177.4L388.6 1177L393.5 1177.1L398.5 1177.5L403.5 1177.3L408.4 1178.3L413.4 1177.8L418.3 1177.4L423.3 1177.2L428.2 1177.1L433.2 1177.6L438.2 1177L443.1 1177.2L448.1 1177.8L453 1178.3L458 1178L463 1177.3L467.9 1177.5L472.9 1176.9L477.8 1176.1L482.8 1175.8L487.8 1175.9L492.7 1177.1L497.7 1177.5L502.6 1176.5L507.6 1176.3L512.5 1176.2L517.5 1176.5L522.5 1176L527.4 1176L532.4 1176.2L537.3 1176.4L542.3 1176.6L547.3 1176.7L552.2 1176.6L557.2 1176.4L562.1 1176.7L567.1 1176L572.1 1176.5L577 1176.4L582 1176.9L586.9 1176.7L591.9 1175.9L596.8 1177.1L601.8 1178L606.8 1177.8L611.7 1176.9L616.7 1175.7L621.6 1176.2L626.6 1176.6L631.6 1177.3L636.5 1176.8L641.5 1176.1L646.4 1175.9L651.4 1176.9L656.4 1176.7L661.3 1176.9L666.3 1177.6L671.2 1177.3L676.2 1177.7L681.1 1178.4L686.1 1177.1L691.1 1176.7L696 1177.5L701 1177.6L705.9 1176.3L710.9 1176.3L715.9 1176L720.8 1176L725.8 1176.8L730.7 1176.7L735.7 1177L740.7 1177.1L745.6 1177.1L750.6 1367.7L755.5 1327.2L760.5 1304.5L765.4 1285.4L770.4 1269.1L775.4 1255.3L780.3 1243.9L785.3 1234.1L790.2 1225.7L795.2 1218.7L800.2 1212.8L805.1 1207.7L810.1 1203L815 1199.5L820 1196.7L825 1194.1L829.9 1191.7L834.9 1190.1L839.8 1188.7L844.8 1187.2L849.7 1185.9L854.7 1184.6L859.7 1184L864.6 1183L869.6 1183.3L874.5 1182.8L879.5 1182.5L884.5 1181.4L889.4 1181.6L894.4 1181.4L899.3 1180.6L904.3 1180.5L909.3 1181.4L914.2 1181.4L919.2 1181.5L924.1 1180.8L929.1 1180.6L934 1180.8L939 1180.9L944 1180.8L948.9 1180.6L953.9 1179.8L958.8 1179.7L963.8 1180.9L968.8 1180.6L973.7 1180.3L978.7 1180.1L983.6 1180.5L988.6 1180.5L993.6 1180.5L998.5 1179.8" fill="none" stroke="#c2355c" stroke-width="1.5" stroke-linejoin="round"/>
<path d="M135.7 1179.7h0M140.6 1179.6h0M145.6 1179.7h0M150.6 1180h0M155.5 1016.7h0M160.5 1040.4h0M165.4 1060.7h0M170.4 1078h0M175.3 1093h0M180.3 1105.6h0M185.3 1116.1h0M190.2 1125.4h0M195.2 1133.2h0M200.1 1139.5h0M205.1 1145.1h0M210.1 1150.5h0M215 1155.2h0M220 1158.8h0M224.9 1161.4h0M229.9 1163.2h0M234.9 1165.3h0M239.8 1167.9h0M244.8 1168.6h0M249.7 1170.4h0M254.7 1171.4h0M259.6 1171.5h0M264.6 1172.6h0M269.6 1173.7h0M274.5 1173.1h0M279.5 1174.3h0M284.4 1174.6h0M289.4 1174.5h0M294.4 1174.4h0M299.3 1175.3h0M304.3 1175.4h0M309.2 1175.9h0M314.2 1175.7h0M319.2 1176.5h0M324.1 1176.3h0M329.1 1175.3h0M334 1175.9h0M339 1175.9h0M343.9 1175.1h0M348.9 1176.2h0M353.9 1177h0M358.8 1176.8h0M363.8 1177.2h0M368.7 1176.1h0M373.7 1176h0M378.7 1177.1h0M383.6 1177.4h0M388.6 1177h0M393.5 1177.1h0M398.5 1177.5h0M403.5 1177.3h0M408.4 1178.3h0M413.4 1177.8h0M418.3 1177.4h0M423.3 1177.2h0M428.2 1177.1h0M433.2 1177.6h0M438.2 1177h0M443.1 1177.2h0M448.1 1177.8h0M453 1178.3h0M458 1178h0M463 1177.3h0M467.9 1177.5h0M472.9 1176.9h0M477.8 1176.1h0M482.8 1175.8h0M487.8 1175.9h0M492.7 1177.1h0M497.7 1177.5h0M502.6 1176.5h0M507.6 1176.3h0M512.5 1176.2h0M517.5 1176.5h0M522.5 1176h0M527.4 1176h0M532.4 1176.2h0M537.3 1176.4h0M542.3 1176.6h0M547.3 1176.7h0M552.2 1176.6h0M557.2 1176.4h0M562.1 1176.7h0M567.1 1176h0M572.1 1176.5h0M577 1176.4h0M582 1176.9h0M586.9 1176.7h0M591.9 1175.9h0M596.8 1177.1h0M601.8 1178h0M606.8 1177.8h0M611.7 1176.9h0M616.7 1175.7h0M621.6 1176.2h0M626.6 1176.6h0M631.6 1177.3h0M636.5 1176.8h0M641.5 1176.1h0M646.4 1175.9h0M651.4 1176.9h0M656.4 1176.7h0M661.3 1176.9h0M666.3 1177.6h0M671.2 1177.3h0M676.2 1177.7h0M681.1 1178.4h0M686.1 1177.1h0M691.1 1176.7h0M696 1177.5h0M701 1177.6h0M705.9 1176.3h0M710.9 1176.3h0M715.9 1176h0M720.8 1176h0M725.8 1176.8h0M730.7 1176.7h0M735.7 1177h0M740.7 1177.1h0M745.6 1177.1h0M750.6 1367.7h0M755.5 1327.2h0M760.5 1304.5h0M765.4 1285.4h0M770.4 1269.1h0M775.4 1255.3h0M780.3 1243.9h0M785.3 1234.1h0M790.2 1225.7h0M795.2 1218.7h0M800.2 1212.8h0M805.1 1207.7h0M810.1 1203h0M815 1199.5h0M820 1196.7h0M825 1194.1h0M829.9 1191.7h0M834.9 1190.1h0M839.8 1188.7h0M844.8 1187.2h0M849.7 1185.9h0M854.7 1184.6h0M859.7 1184h0M864.6 1183h0M869.6 1183.3h0M874.5 1182.8h0M879.5 1182.5h0M884.5 1181.4h0M889.4 1181.6h0M894.4 1181.4h0M899.3 1180.6h0M904.3 1180.5h0M909.3 1181.4h0M914.2 1181.4h0M919.2 1181.5h0M924.1 1180.8h0M929.1 1180.6h0M934 1180.8h0M939 1180.9h0M944 1180.8h0M948.9 1180.6h0M953.9 1179.8h0M958.8 1179.7h0M963.8 1180.9h0M968.8 1180.6h0M973.7 1180.3h0M978.7 1180.1h0M983.6 1180.5h0M988.6 1180.5h0M993.6 1180.5h0M998.5 1179.8h0" stroke="#c2355c" stroke-width="7.0" stroke-linecap="round" fill="none"/>
<path clip-path="url(#cb)" d="M132.5 1180L137.5 1179.9L142.4 1180L147.4 1179.7L152.3 1043.8L157.3 1064.6L162.3 1082.1L167.2 1096.9L172.2 1109.5L177.1 1120L182.1 1128.8L187 1136.5L192 1143L197 1148.4L201.9 1152.9L206.9 1156.4L211.8 1158.7L216.8 1162L221.8 1165.5L226.7 1168.5L231.7 1170.4L236.6 1171.5L241.6 1171.6L246.6 1172.8L251.5 1173.6L256.5 1174.4L261.4 1174.5L266.4 1174.5L271.3 1175.9L276.3 1176.6L281.3 1176.8L286.2 1176.5L291.2 1177.6L296.1 1178.3L301.1 1178.7L306.1 1178.5L311 1177L316 1176.1L320.9 1177.5L325.9 1177.3L330.9 1177.7L335.8 1178.6L340.8 1178.4L345.7 1178.3L350.7 1178.1L355.6 1177.4L360.6 1178.7L365.6 1178.1L370.5 1177.9L375.5 1178.3L380.4 1177.9L385.4 1177.5L390.4 1177.7L395.3 1177.7L400.3 1178L405.2 1178.9L410.2 1177.1L415.2 1176.2L420.1 1176.8L425.1 1177.6L430 1178.8L435 1178.7L439.9 1178.8L444.9 1178.5L449.9 1177.9L454.8 1178.5L459.8 1178.8L464.7 1179.4L469.7 1178.7L474.7 1178.3L479.6 1178.7L484.6 1178.3L489.5 1177.4L494.5 1178.7L499.5 1179.2L504.4 1178.6L509.4 1177.1L514.3 1176.5L519.3 1177.6L524.2 1178.6L529.2 1178.3L534.2 1177.8L539.1 1178.1L544.1 1177.1L549 1176.9L554 1177.6L559 1177.5L563.9 1177.2L568.9 1177.2L573.8 1178.2L578.8 1177.7L583.8 1178.3L588.7 1178.7L593.7 1178.3L598.6 1178.5L603.6 1179.2L608.6 1179.6L613.5 1178.8L618.5 1177L623.4 1176.5L628.4 1177L633.3 1177.4L638.3 1178.2L643.3 1178.3L648.2 1178.3L653.2 1179L658.1 1179L663.1 1178.4L668.1 1178.6L673 1178.8L678 1178.2L682.9 1178L687.9 1177.6L692.9 1178L697.8 1178.3L702.8 1178.2L707.7 1178.4L712.7 1178.7L717.6 1178.4L722.6 1177.6L727.6 1177.3L732.5 1177.6L737.5 1179L742.4 1178.9L747.4 1324.3L752.4 1291.5L757.3 1274.3L762.3 1259.7L767.2 1247.2L772.2 1236.9L777.2 1228.3L782.1 1220.5L787.1 1214.2L792 1209.1L797 1204.6L801.9 1200.9L806.9 1197.6L811.9 1195L816.8 1192.9L821.8 1191L826.7 1189.3L831.7 1187.8L836.7 1186.5L841.6 1185.7L846.6 1185.7L851.5 1186L856.5 1184.4L861.5 1183.8L866.4 1182.5L871.4 1181.5L876.3 1181.5L881.3 1181.7L886.2 1181.5L891.2 1181.3L896.2 1181.4L901.1 1181.3L906.1 1181L911 1180.2L916 1180.1L921 1180L925.9 1180.3L930.9 1180.3L935.8 1180.2L940.8 1179.8L945.8 1179.6L950.7 1180L955.7 1180.5L960.6 1180.3L965.6 1179.4L970.5 1179.9L975.5 1179.9L980.5 1179.1L985.4 1179.1L990.4 1179.6L995.3 1179.6L1000.3 1178.8" fill="none" stroke="#dd4d4f" stroke-width="1.5" stroke-linejoin="round"/>
<path d="M132.5 1180h0M137.5 1179.9h0M142.4 1180h0M147.4 1179.7h0M152.3 1043.8h0M157.3 1064.6h0M162.3 1082.1h0M167.2 1096.9h0M172.2 1109.5h0M177.1 1120h0M182.1 1128.8h0M187 1136.5h0M192 1143h0M197 1148.4h0M201.9 1152.9h0M206.9 1156.4h0M211.8 1158.7h0M216.8 1162h0M221.8 1165.5h0M226.7 1168.5h0M231.7 1170.4h0M236.6 1171.5h0M241.6 1171.6h0M246.6 1172.8h0M251.5 1173.6h0M256.5 1174.4h0M261.4 1174.5h0M266.4 1174.5h0M271.3 1175.9h0M276.3 1176.6h0M281.3 1176.8h0M286.2 1176.5h0M291.2 1177.6h0M296.1 1178.3h0M301.1 1178.7h0M306.1 1178.5h0M311 1177h0M316 1176.1h0M320.9 1177.5h0M325.9 1177.3h0M330.9 1177.7h0M335.8 1178.6h0M340.8 1178.4h0M345.7 1178.3h0M350.7 1178.1h0M355.6 1177.4h0M360.6 1178.7h0M365.6 1178.1h0M370.5 1177.9h0M375.5 1178.3h0M380.4 1177.9h0M385.4 1177.5h0M390.4 1177.7h0M395.3 1177.7h0M400.3 1178h0M405.2 1178.9h0M410.2 1177.1h0M415.2 1176.2h0M420.1 1176.8h0M425.1 1177.6h0M430 1178.8h0M435 1178.7h0M439.9 1178.8h0M444.9 1178.5h0M449.9 1177.9h0M454.8 1178.5h0M459.8 1178.8h0M464.7 1179.4h0M469.7 1178.7h0M474.7 1178.3h0M479.6 1178.7h0M484.6 1178.3h0M489.5 1177.4h0M494.5 1178.7h0M499.5 1179.2h0M504.4 1178.6h0M509.4 1177.1h0M514.3 1176.5h0M519.3 1177.6h0M524.2 1178.6h0M529.2 1178.3h0M534.2 1177.8h0M539.1 1178.1h0M544.1 1177.1h0M549 1176.9h0M554 1177.6h0M559 1177.5h0M563.9 1177.2h0M568.9 1177.2h0M573.8 1178.2h0M578.8 1177.7h0M583.8 1178.3h0M588.7 1178.7h0M593.7 1178.3h0M598.6 1178.5h0M603.6 1179.2h0M608.6 1179.6h0M613.5 1178.8h0M618.5 1177h0M623.4 1176.5h0M628.4 1177h0M633.3 1177.4h0M638.3 1178.2h0M643.3 1178.3h0M648.2 1178.3h0M653.2 1179h0M658.1 1179h0M663.1 1178.4h0M668.1 1178.6h0M673 1178.8h0M678 1178.2h0M682.9 1178h0M687.9 1177.6h0M692.9 1178h0M697.8 1178.3h0M702.8 1178.2h0M707.7 1178.4h0M712.7 1178.7h0M717.6 1178.4h0M722.6 1177.6h0M727.6 1177.3h0M732.5 1177.6h0M737.5 1179h0M742.4 1178.9h0M747.4 1324.3h0M752.4 1291.5h0M757.3 1274.3h0M762.3 1259.7h0M767.2 1247.2h0M772.2 1236.9h0M777.2 1228.3h0M782.1 1220.5h0M787.1 1214.2h0M792 1209.1h0M797 1204.6h0M801.9 1200.9h0M806.9 1197.6h0M811.9 1195h0M816.8 1192.9h0M821.8 1191h0M826.7 1189.3h0M831.7 1187.8h0M836.7 1186.5h0M841.6 1185.7h0M846.6 1185.7h0M851.5 1186h0M856.5 1184.4h0M861.5 1183.8h0M866.4 1182.5h0M871.4 1181.5h0M876.3 1181.5h0M881.3 1181.7h0M886.2 1181.5h0M891.2 1181.3h0M896.2 1181.4h0M901.1 1181.3h0M906.1 1181h0M911 1180.2h0M916 1180.1h0M921 1180h0M925.9 1180.3h0M930.9 1180.3h0M935.8 1180.2h0M940.8 1179.8h0M945.8 1179.6h0M950.7 1180h0M955.7 1180.5h0M960.6 1180.3h0M965.6 1179.4h0M970.5 1179.9h0M975.5 1179.9h0M980.5 1179.1h0M985.4 1179.1h0M990.4 1179.6h0M995.3 1179.6h0M1000.3 1178.8h0" stroke="#dd4d4f" stroke-width="7.0" stroke-linecap="round" fill="none"/>
<path clip-path="url(#cb)" d="M132.5 1179.9L137.5 1179.9L142.4 1180L147.4 1180L152.3 1085.2L157.3 1099.7L162.3 1112.2L167.2 1122.9L172.2 1131.6L177.1 1139.1L182.1 1145.4L187 1150.6L192 1155L197 1158.5L201.9 1161.9L206.9 1165.1L211.8 1166.5L216.8 1168.9L221.8 1171.3L226.7 1173.4L231.7 1172.7L236.6 1172.8L241.6 1173.6L246.6 1174L251.5 1174.5L256.5 1175.7L261.4 1176.2L266.4 1177.3L271.3 1177.4L276.3 1176.8L281.3 1177.5L286.2 1178.5L291.2 1178.1L296.1 1178.3L301.1 1178.6L306.1 1178.3L311 1178.9L316 1179.7L320.9 1179.1L325.9 1178L330.9 1179L335.8 1178.6L340.8 1178L345.7 1178.3L350.7 1179.3L355.6 1179.1L360.6 1178.5L365.6 1178.3L370.5 1179.1L375.5 1179.3L380.4 1178.1L385.4 1177.7L390.4 1178.3L395.3 1178.9L400.3 1178.5L405.2 1178.4L410.2 1178.4L415.2 1179.3L420.1 1179L425.1 1179L430 1179.4L435 1178.8L439.9 1178.7L444.9 1178.9L449.9 1178.9L454.8 1179.5L459.8 1179L464.7 1178.4L469.7 1178.2L474.7 1178.3L479.6 1179.5L484.6 1179.8L489.5 1178.8L494.5 1177.9L499.5 1177.2L504.4 1178L509.4 1178.9L514.3 1178.6L519.3 1179.4L524.2 1179.2L529.2 1177.4L534.2 1177.8L539.1 1178L544.1 1177.8L549 1177.4L554 1177.9L559 1178.1L563.9 1179.4L568.9 1179.5L573.8 1177.8L578.8 1177.4L583.8 1178L588.7 1178.4L593.7 1178.7L598.6 1178.8L603.6 1177.8L608.6 1177.9L613.5 1178.1L618.5 1178.1L623.4 1177.9L628.4 1178L633.3 1178.4L638.3 1179.1L643.3 1178.2L648.2 1177.4L653.2 1178.6L658.1 1178.7L663.1 1178L668.1 1177.8L673 1178.5L678 1179.5L682.9 1179L687.9 1179.5L692.9 1179.4L697.8 1178.6L702.8 1178.6L707.7 1177.6L712.7 1176.4L717.6 1177.4L722.6 1178.3L727.6 1179.3L732.5 1179.5L737.5 1179.7L742.4 1179.5L747.4 1179L752.4 1273.1L757.3 1254.6L762.3 1243.2L767.2 1233.6L772.2 1225.3L777.2 1218L782.1 1212L787.1 1206.9L792 1202.7L797 1199.4L801.9 1196.4L806.9 1194L811.9 1191.4L816.8 1189.6L821.8 1188.5L826.7 1187.4L831.7 1186.2L836.7 1185.5L841.6 1184.9L846.6 1183.5L851.5 1183L856.5 1182.7L861.5 1182L866.4 1182.2L871.4 1181.7L876.3 1181.7L881.3 1181.6L886.2 1181.1L891.2 1180.9L896.2 1180L901.1 1180.2L906.1 1179.8L911 1180.5L916 1180.4L921 1181L925.9 1181.1L930.9 1180.2L935.8 1180L940.8 1180.4L945.8 1179.9L950.7 1180.2L955.7 1180L960.6 1179.7L965.6 1179.9L970.5 1180.5L975.5 1179.4L980.5 1179.5L985.4 1180.2L990.4 1180.8L995.3 1181.2L1000.3 1180.8" fill="none" stroke="#eb7050" stroke-width="1.5" stroke-linejoin="round"/>
<path d="M132.5 1179.9h0M137.5 1179.9h0M142.4 1180h0M147.4 1180h0M152.3 1085.2h0M157.3 1099.7h0M162.3 1112.2h0M167.2 1122.9h0M172.2 1131.6h0M177.1 1139.1h0M182.1 1145.4h0M187 1150.6h0M192 1155h0M197 1158.5h0M201.9 1161.9h0M206.9 1165.1h0M211.8 1166.5h0M216.8 1168.9h0M221.8 1171.3h0M226.7 1173.4h0M231.7 1172.7h0M236.6 1172.8h0M241.6 1173.6h0M246.6 1174h0M251.5 1174.5h0M256.5 1175.7h0M261.4 1176.2h0M266.4 1177.3h0M271.3 1177.4h0M276.3 1176.8h0M281.3 1177.5h0M286.2 1178.5h0M291.2 1178.1h0M296.1 1178.3h0M301.1 1178.6h0M306.1 1178.3h0M311 1178.9h0M316 1179.7h0M320.9 1179.1h0M325.9 1178h0M330.9 1179h0M335.8 1178.6h0M340.8 1178h0M345.7 1178.3h0M350.7 1179.3h0M355.6 1179.1h0M360.6 1178.5h0M365.6 1178.3h0M370.5 1179.1h0M375.5 1179.3h0M380.4 1178.1h0M385.4 1177.7h0M390.4 1178.3h0M395.3 1178.9h0M400.3 1178.5h0M405.2 1178.4h0M410.2 1178.4h0M415.2 1179.3h0M420.1 1179h0M425.1 1179h0M430 1179.4h0M435 1178.8h0M439.9 1178.7h0M444.9 1178.9h0M449.9 1178.9h0M454.8 1179.5h0M459.8 1179h0M464.7 1178.4h0M469.7 1178.2h0M474.7 1178.3h0M479.6 1179.5h0M484.6 1179.8h0M489.5 1178.8h0M494.5 1177.9h0M499.5 1177.2h0M504.4 1178h0M509.4 1178.9h0M514.3 1178.6h0M519.3 1179.4h0M524.2 1179.2h0M529.2 1177.4h0M534.2 1177.8h0M539.1 1178h0M544.1 1177.8h0M549 1177.4h0M554 1177.9h0M559 1178.1h0M563.9 1179.4h0M568.9 1179.5h0M573.8 1177.8h0M578.8 1177.4h0M583.8 1178h0M588.7 1178.4h0M593.7 1178.7h0M598.6 1178.8h0M603.6 1177.8h0M608.6 1177.9h0M613.5 1178.1h0M618.5 1178.1h0M623.4 1177.9h0M628.4 1178h0M633.3 1178.4h0M638.3 1179.1h0M643.3 1178.2h0M648.2 1177.4h0M653.2 1178.6h0M658.1 1178.7h0M663.1 1178h0M668.1 1177.8h0M673 1178.5h0M678 1179.5h0M682.9 1179h0M687.9 1179.5h0M692.9 1179.4h0M697.8 1178.6h0M702.8 1178.6h0M707.7 1177.6h0M712.7 1176.4h0M717.6 1177.4h0M722.6 1178.3h0M727.6 1179.3h0M732.5 1179.5h0M737.5 1179.7h0M742.4 1179.5h0M747.4 1179h0M752.4 1273.1h0M757.3 1254.6h0M762.3 1243.2h0M767.2 1233.6h0M772.2 1225.3h0M777.2 1218h0M782.1 1212h0M787.1 1206.9h0M792 1202.7h0M797 1199.4h0M801.9 1196.4h0M806.9 1194h0M811.9 1191.4h0M816.8 1189.6h0M821.8 1188.5h0M826.7 1187.4h0M831.7 1186.2h0M836.7 1185.5h0M841.6 1184.9h0M846.6 1183.5h0M851.5 1183h0M856.5 1182.7h0M861.5 1182h0M866.4 1182.2h0M871.4 1181.7h0M876.3 1181.7h0M881.3 1181.6h0M886.2 1181.1h0M891.2 1180.9h0M896.2 1180h0M901.1 1180.2h0M906.1 1179.8h0M911 1180.5h0M916 1180.4h0M921 1181h0M925.9 1181.1h0M930.9 1180.2h0M935.8 1180h0M940.8 1180.4h0M945.8 1179.9h0M950.7 1180.2h0M955.7 1180h0M960.6 1179.7h0M965.6 1179.9h0M970.5 1180.5h0M975.5 1179.4h0M980.5 1179.5h0M985.4 1180.2h0M990.4 1180.8h0M995.3 1181.2h0M1000.3 1180.8h0" stroke="#eb7050" stroke-width="7.0" stroke-linecap="round" fill="none"/>
<path clip-path="url(#cb)" d="M132.5 1180.1L137.5 1180L142.4 1179.8L147.4 1179.8L152.3 1134.1L157.3 1141.3L162.3 1147.2L167.2 1152.2L172.2 1156.3L177.1 1159.8L182.1 1162.8L187 1165.1L192 1167.4L197 1169.3L201.9 1170.9L206.9 1172.1L211.8 1172.6L216.8 1173.7L221.8 1175.4L226.7 1175.2L231.7 1175.5L236.6 1175.9L241.6 1176.9L246.6 1178.4L251.5 1178.3L256.5 1177.1L261.4 1178L266.4 1179.1L271.3 1178.7L276.3 1179.2L281.3 1180.5L286.2 1181L291.2 1180.3L296.1 1179.2L301.1 1179L306.1 1179.1L311 1178.9L316 1179.2L320.9 1180.4L325.9 1180L330.9 1180.1L335.8 1180.3L340.8 1179.9L345.7 1179.5L350.7 1179.8L355.6 1180.3L360.6 1179.4L365.6 1178.4L370.5 1179.8L375.5 1180.4L380.4 1179.3L385.4 1178.8L390.4 1179.1L395.3 1179.6L400.3 1179.1L405.2 1179.8L410.2 1180.3L415.2 1179.9L420.1 1179.3L425.1 1178.7L430 1178.7L435 1178.9L439.9 1178.7L444.9 1178.8L449.9 1179L454.8 1180.3L459.8 1180.4L464.7 1179.5L469.7 1180L474.7 1179.8L479.6 1179.5L484.6 1179.7L489.5 1179.4L494.5 1179.1L499.5 1180.3L504.4 1178.8L509.4 1177.7L514.3 1178.8L519.3 1179.1L524.2 1178.5L529.2 1178.3L534.2 1179.6L539.1 1179.5L544.1 1179.3L549 1178.9L554 1178.9L559 1178.9L563.9 1179.4L568.9 1179.5L573.8 1179.8L578.8 1179.9L583.8 1179.6L588.7 1179.7L593.7 1179.7L598.6 1178.6L603.6 1179.3L608.6 1179.9L613.5 1179.1L618.5 1179.4L623.4 1179.1L628.4 1179.1L633.3 1179.1L638.3 1179.3L643.3 1179.6L648.2 1179L653.2 1178.5L658.1 1180.2L663.1 1179.6L668.1 1179.3L673 1180.1L678 1179.9L682.9 1178.3L687.9 1178.6L692.9 1178L697.8 1178.5L702.8 1179L707.7 1178.8L712.7 1178.5L717.6 1178.3L722.6 1178.7L727.6 1179L732.5 1178.8L737.5 1178.2L742.4 1178.7L747.4 1225.2L752.4 1216.6L757.3 1210.8L762.3 1206.1L767.2 1202.1L772.2 1198.8L777.2 1195.8L782.1 1193.1L787.1 1191L792 1189.3L797 1187.6L801.9 1186.4L806.9 1185L811.9 1184.4L816.8 1183.9L821.8 1183.7L826.7 1183.5L831.7 1182.6L836.7 1181.9L841.6 1181L846.6 1181.5L851.5 1180.6L856.5 1180.7L861.5 1181L866.4 1181.8L871.4 1181L876.3 1180.5L881.3 1180.1L886.2 1180.4L891.2 1180.6L896.2 1179.8L901.1 1179.6L906.1 1179.5L911 1179.3L916 1179.4L921 1180.1L925.9 1180.9L930.9 1180.7L935.8 1179.4L940.8 1179.4L945.8 1179.8L950.7 1180.1L955.7 1180L960.6 1180L965.6 1180.2L970.5 1179.9L975.5 1178.9L980.5 1179.5L985.4 1180.4L990.4 1180.8L995.3 1180.3" fill="none" stroke="#f29f69" stroke-width="1.5" stroke-linejoin="round"/>
<path d="M132.5 1180.1h0M137.5 1180h0M142.4 1179.8h0M147.4 1179.8h0M152.3 1134.1h0M157.3 1141.3h0M162.3 1147.2h0M167.2 1152.2h0M172.2 1156.3h0M177.1 1159.8h0M182.1 1162.8h0M187 1165.1h0M192 1167.4h0M197 1169.3h0M201.9 1170.9h0M206.9 1172.1h0M211.8 1172.6h0M216.8 1173.7h0M221.8 1175.4h0M226.7 1175.2h0M231.7 1175.5h0M236.6 1175.9h0M241.6 1176.9h0M246.6 1178.4h0M251.5 1178.3h0M256.5 1177.1h0M261.4 1178h0M266.4 1179.1h0M271.3 1178.7h0M276.3 1179.2h0M281.3 1180.5h0M286.2 1181h0M291.2 1180.3h0M296.1 1179.2h0M301.1 1179h0M306.1 1179.1h0M311 1178.9h0M316 1179.2h0M320.9 1180.4h0M325.9 1180h0M330.9 1180.1h0M335.8 1180.3h0M340.8 1179.9h0M345.7 1179.5h0M350.7 1179.8h0M355.6 1180.3h0M360.6 1179.4h0M365.6 1178.4h0M370.5 1179.8h0M375.5 1180.4h0M380.4 1179.3h0M385.4 1178.8h0M390.4 1179.1h0M395.3 1179.6h0M400.3 1179.1h0M405.2 1179.8h0M410.2 1180.3h0M415.2 1179.9h0M420.1 1179.3h0M425.1 1178.7h0M430 1178.7h0M435 1178.9h0M439.9 1178.7h0M444.9 1178.8h0M449.9 1179h0M454.8 1180.3h0M459.8 1180.4h0M464.7 1179.5h0M469.7 1180h0M474.7 1179.8h0M479.6 1179.5h0M484.6 1179.7h0M489.5 1179.4h0M494.5 1179.1h0M499.5 1180.3h0M504.4 1178.8h0M509.4 1177.7h0M514.3 1178.8h0M519.3 1179.1h0M524.2 1178.5h0M529.2 1178.3h0M534.2 1179.6h0M539.1 1179.5h0M544.1 1179.3h0M549 1178.9h0M554 1178.9h0M559 1178.9h0M563.9 1179.4h0M568.9 1179.5h0M573.8 1179.8h0M578.8 1179.9h0M583.8 1179.6h0M588.7 1179.7h0M593.7 1179.7h0M598.6 1178.6h0M603.6 1179.3h0M608.6 1179.9h0M613.5 1179.1h0M618.5 1179.4h0M623.4 1179.1h0M628.4 1179.1h0M633.3 1179.1h0M638.3 1179.3h0M643.3 1179.6h0M648.2 1179h0M653.2 1178.5h0M658.1 1180.2h0M663.1 1179.6h0M668.1 1179.3h0M673 1180.1h0M678 1179.9h0M682.9 1178.3h0M687.9 1178.6h0M692.9 1178h0M697.8 1178.5h0M702.8 1179h0M707.7 1178.8h0M712.7 1178.5h0M717.6 1178.3h0M722.6 1178.7h0M727.6 1179h0M732.5 1178.8h0M737.5 1178.2h0M742.4 1178.7h0M747.4 1225.2h0M752.4 1216.6h0M757.3 1210.8h0M762.3 1206.1h0M767.2 1202.1h0M772.2 1198.8h0M777.2 1195.8h0M782.1 1193.1h0M787.1 1191h0M792 1189.3h0M797 1187.6h0M801.9 1186.4h0M806.9 1185h0M811.9 1184.4h0M816.8 1183.9h0M821.8 1183.7h0M826.7 1183.5h0M831.7 1182.6h0M836.7 1181.9h0M841.6 1181h0M846.6 1181.5h0M851.5 1180.6h0M856.5 1180.7h0M861.5 1181h0M866.4 1181.8h0M871.4 1181h0M876.3 1180.5h0M881.3 1180.1h0M886.2 1180.4h0M891.2 1180.6h0M896.2 1179.8h0M901.1 1179.6h0M906.1 1179.5h0M911 1179.3h0M916 1179.4h0M921 1180.1h0M925.9 1180.9h0M930.9 1180.7h0M935.8 1179.4h0M940.8 1179.4h0M945.8 1179.8h0M950.7 1180.1h0M955.7 1180h0M960.6 1180h0M965.6 1180.2h0M970.5 1179.9h0M975.5 1178.9h0M980.5 1179.5h0M985.4 1180.4h0M990.4 1180.8h0M995.3 1180.3h0" stroke="#f29f69" stroke-width="7.0" stroke-linecap="round" fill="none"/>
</g>
<g class="tk">
<text x="206.88" y="725.70" text-anchor="middle">40</text>
<text x="306.06" y="725.70" text-anchor="middle">60</text>
<text x="405.24" y="725.70" text-anchor="middle">80</text>
<text x="504.41" y="725.70" text-anchor="middle">100</text>
<text x="603.59" y="725.70" text-anchor="middle">120</text>
<text x="702.77" y="725.70" text-anchor="middle">140</text>
<text x="801.95" y="725.70" text-anchor="middle">160</text>
<text x="901.12" y="725.70" text-anchor="middle">180</text>
<text x="1000.30" y="725.70" text-anchor="middle">200</text>
<text x="119.5" y="693.40" text-anchor="end">0</text>
<text x="119.5" y="613.44" text-anchor="end">0.002</text>
<text x="119.5" y="533.47" text-anchor="end">0.004</text>
<text x="119.5" y="453.51" text-anchor="end">0.006</text>
<text x="119.5" y="373.54" text-anchor="end">0.008</text>
<text x="119.5" y="293.58" text-anchor="end">0.01</text>
<text x="119.5" y="213.61" text-anchor="end">0.012</text>
<text x="119.5" y="133.65" text-anchor="end">0.014</text>
<text x="119.5" y="53.68" text-anchor="end">0.016</text>
<text x="206.88" y="1565.25" text-anchor="middle">40</text>
<text x="306.06" y="1565.25" text-anchor="middle">60</text>
<text x="405.24" y="1565.25" text-anchor="middle">80</text>
<text x="504.41" y="1565.25" text-anchor="middle">100</text>
<text x="603.59" y="1565.25" text-anchor="middle">120</text>
<text x="702.77" y="1565.25" text-anchor="middle">140</text>
<text x="801.95" y="1565.25" text-anchor="middle">160</text>
<text x="901.12" y="1565.25" text-anchor="middle">180</text>
<text x="1000.30" y="1565.25" text-anchor="middle">200</text>
<text x="119.5" y="1532.95" text-anchor="end">-300</text>
<text x="119.5" y="1419.65" text-anchor="end">-200</text>
<text x="119.5" y="1306.35" text-anchor="end">-100</text>
<text x="119.5" y="1193.05" text-anchor="end">0</text>
<text x="119.5" y="1079.75" text-anchor="end">100</text>
<text x="119.5" y="966.45" text-anchor="end">200</text>
<text x="119.5" y="853.15" text-anchor="end">300</text>
</g>
<text class="al" x="566.3" y="770.4" text-anchor="middle">time [s]</text>
<text class="al" x="566.3" y="1609.2" text-anchor="middle">time [s]</text>
<text class="al" transform="translate(23.2 340.4) rotate(-90)" text-anchor="middle">B [T]</text>
<text class="al" transform="translate(38.7 1180.5) rotate(-90)" text-anchor="middle">E [<tspan font-family="Liberation Serif,serif" font-style="italic" font-size="37">&#956;</tspan>V/m]</text>
<text class="pl" x="188.5" y="42.6">(a)</text>
<text class="pl" x="188" y="884.8">(b)</text>
<g class="lg">
<rect x="792.40" y="22.40" width="185.50" height="349.70" fill="#fff" stroke="#262626" stroke-width="1.2"/>
<path d="M800.3 47.50H879.7" stroke="#2e1142" stroke-width="1.1"/>
<path d="M840.2 47.50h0" stroke="#2e1142" stroke-width="6.6" stroke-linecap="round"/>
<text x="886.0" y="60.90" fill="#000">800 A</text>
<path d="M800.3 90.30H879.7" stroke="#561657" stroke-width="1.1"/>
<path d="M840.2 90.30h0" stroke="#561657" stroke-width="6.6" stroke-linecap="round"/>
<text x="886.0" y="103.70" fill="#000">700 A</text>
<path d="M800.3 133.10H879.7" stroke="#741a66" stroke-width="1.1"/>
<path d="M840.2 133.10h0" stroke="#741a66" stroke-width="6.6" stroke-linecap="round"/>
<text x="886.0" y="146.50" fill="#000">600 A</text>
<path d="M800.3 175.90H879.7" stroke="#9a2068" stroke-width="1.1"/>
<path d="M840.2 175.90h0" stroke="#9a2068" stroke-width="6.6" stroke-linecap="round"/>
<text x="886.0" y="189.30" fill="#000">500 A</text>
<path d="M800.3 218.70H879.7" stroke="#c2355c" stroke-width="1.1"/>
<path d="M840.2 218.70h0" stroke="#c2355c" stroke-width="6.6" stroke-linecap="round"/>
<text x="886.0" y="232.10" fill="#000">400 A</text>
<path d="M800.3 261.50H879.7" stroke="#dd4d4f" stroke-width="1.1"/>
<path d="M840.2 261.50h0" stroke="#dd4d4f" stroke-width="6.6" stroke-linecap="round"/>
<text x="886.0" y="274.90" fill="#000">300 A</text>
<path d="M800.3 304.30H879.7" stroke="#eb7050" stroke-width="1.1"/>
<path d="M840.2 304.30h0" stroke="#eb7050" stroke-width="6.6" stroke-linecap="round"/>
<text x="886.0" y="317.70" fill="#000">200 A</text>
<path d="M800.3 347.10H879.7" stroke="#f29f69" stroke-width="1.1"/>
<path d="M840.2 347.10h0" stroke="#f29f69" stroke-width="6.6" stroke-linecap="round"/>
<text x="886.0" y="360.50" fill="#000">100 A</text>
</g>
</svg>
</body></html>
